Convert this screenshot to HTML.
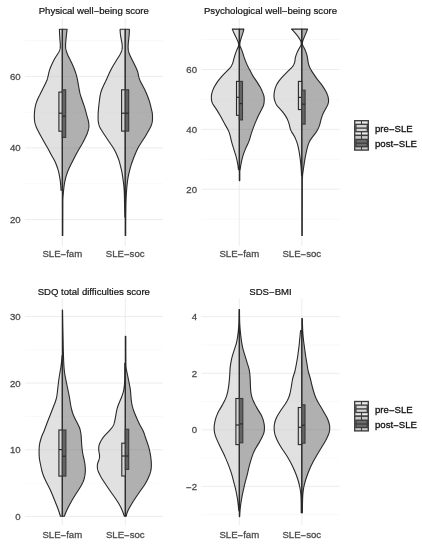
<!DOCTYPE html><html><head><meta charset="utf-8"><title>Violin plots</title><style>html,body{margin:0;padding:0;background:#fff}svg{display:block}svg text{font-family:"Liberation Sans",Arial,Helvetica,sans-serif}</style></head><body><svg width="422" height="550" viewBox="0 0 422 550" font-size="9.6">
<rect width="422" height="550" fill="#fff"/>
<line x1="25.1" x2="162.6" y1="40.6" y2="40.6" stroke="#f2f2f2" stroke-width="0.5"/>
<line x1="25.1" x2="162.6" y1="112.2" y2="112.2" stroke="#f2f2f2" stroke-width="0.5"/>
<line x1="25.1" x2="162.6" y1="183.7" y2="183.7" stroke="#f2f2f2" stroke-width="0.5"/>
<line x1="25.1" x2="162.6" y1="76.4" y2="76.4" stroke="#ebebeb" stroke-width="0.9"/>
<text x="20.6" y="79.9" text-anchor="end" fill="#4d4d4d" stroke="#4d4d4d" stroke-width="0.3">60</text>
<line x1="25.1" x2="162.6" y1="147.9" y2="147.9" stroke="#ebebeb" stroke-width="0.9"/>
<text x="20.6" y="151.3" text-anchor="end" fill="#4d4d4d" stroke="#4d4d4d" stroke-width="0.3">40</text>
<line x1="25.1" x2="162.6" y1="219.5" y2="219.5" stroke="#ebebeb" stroke-width="0.9"/>
<text x="20.6" y="222.9" text-anchor="end" fill="#4d4d4d" stroke="#4d4d4d" stroke-width="0.3">20</text>
<line x1="62.3" x2="62.3" y1="18.5" y2="246" stroke="#ebebeb" stroke-width="0.9"/>
<text x="62.3" y="257" text-anchor="middle" fill="#4d4d4d" stroke="#4d4d4d" stroke-width="0.3">SLE<tspan dy="1.1">−</tspan><tspan dy="-1.1">fam</tspan></text>
<line x1="125.2" x2="125.2" y1="18.5" y2="246" stroke="#ebebeb" stroke-width="0.9"/>
<text x="125.2" y="257" text-anchor="middle" fill="#4d4d4d" stroke="#4d4d4d" stroke-width="0.3">SLE<tspan dy="1.1">−</tspan><tspan dy="-1.1">soc</tspan></text>
<text x="93.8" y="14.3" text-anchor="middle" fill="#111111" stroke="#111111" stroke-width="0.2">Physical well<tspan dy="1.1">−</tspan><tspan dy="-1.1">being score</tspan></text>
<line x1="201.4" x2="339.8" y1="39.6" y2="39.6" stroke="#f2f2f2" stroke-width="0.5"/>
<line x1="201.4" x2="339.8" y1="99.4" y2="99.4" stroke="#f2f2f2" stroke-width="0.5"/>
<line x1="201.4" x2="339.8" y1="159.3" y2="159.3" stroke="#f2f2f2" stroke-width="0.5"/>
<line x1="201.4" x2="339.8" y1="219.2" y2="219.2" stroke="#f2f2f2" stroke-width="0.5"/>
<line x1="201.4" x2="339.8" y1="69.5" y2="69.5" stroke="#ebebeb" stroke-width="0.9"/>
<text x="197" y="73.0" text-anchor="end" fill="#4d4d4d" stroke="#4d4d4d" stroke-width="0.3">60</text>
<line x1="201.4" x2="339.8" y1="129.4" y2="129.4" stroke="#ebebeb" stroke-width="0.9"/>
<text x="197" y="132.8" text-anchor="end" fill="#4d4d4d" stroke="#4d4d4d" stroke-width="0.3">40</text>
<line x1="201.4" x2="339.8" y1="189.2" y2="189.2" stroke="#ebebeb" stroke-width="0.9"/>
<text x="197" y="192.6" text-anchor="end" fill="#4d4d4d" stroke="#4d4d4d" stroke-width="0.3">20</text>
<line x1="239.3" x2="239.3" y1="18.5" y2="246" stroke="#ebebeb" stroke-width="0.9"/>
<text x="239.3" y="257" text-anchor="middle" fill="#4d4d4d" stroke="#4d4d4d" stroke-width="0.3">SLE<tspan dy="1.1">−</tspan><tspan dy="-1.1">fam</tspan></text>
<line x1="301.8" x2="301.8" y1="18.5" y2="246" stroke="#ebebeb" stroke-width="0.9"/>
<text x="301.8" y="257" text-anchor="middle" fill="#4d4d4d" stroke="#4d4d4d" stroke-width="0.3">SLE<tspan dy="1.1">−</tspan><tspan dy="-1.1">soc</tspan></text>
<text x="270.5" y="14.3" text-anchor="middle" fill="#111111" stroke="#111111" stroke-width="0.2">Psychological well<tspan dy="1.1">−</tspan><tspan dy="-1.1">being score</tspan></text>
<line x1="25.1" x2="162.6" y1="349.8" y2="349.8" stroke="#f2f2f2" stroke-width="0.5"/>
<line x1="25.1" x2="162.6" y1="416.5" y2="416.5" stroke="#f2f2f2" stroke-width="0.5"/>
<line x1="25.1" x2="162.6" y1="483.1" y2="483.1" stroke="#f2f2f2" stroke-width="0.5"/>
<line x1="25.1" x2="162.6" y1="316.5" y2="316.5" stroke="#ebebeb" stroke-width="0.9"/>
<text x="20.6" y="319.9" text-anchor="end" fill="#4d4d4d" stroke="#4d4d4d" stroke-width="0.3">30</text>
<line x1="25.1" x2="162.6" y1="383.1" y2="383.1" stroke="#ebebeb" stroke-width="0.9"/>
<text x="20.6" y="386.6" text-anchor="end" fill="#4d4d4d" stroke="#4d4d4d" stroke-width="0.3">20</text>
<line x1="25.1" x2="162.6" y1="449.8" y2="449.8" stroke="#ebebeb" stroke-width="0.9"/>
<text x="20.6" y="453.2" text-anchor="end" fill="#4d4d4d" stroke="#4d4d4d" stroke-width="0.3">10</text>
<line x1="25.1" x2="162.6" y1="516.4" y2="516.4" stroke="#ebebeb" stroke-width="0.9"/>
<text x="20.6" y="519.9" text-anchor="end" fill="#4d4d4d" stroke="#4d4d4d" stroke-width="0.3">0</text>
<line x1="62.3" x2="62.3" y1="298.5" y2="525" stroke="#ebebeb" stroke-width="0.9"/>
<text x="62.3" y="538" text-anchor="middle" fill="#4d4d4d" stroke="#4d4d4d" stroke-width="0.3">SLE<tspan dy="1.1">−</tspan><tspan dy="-1.1">fam</tspan></text>
<line x1="125.3" x2="125.3" y1="298.5" y2="525" stroke="#ebebeb" stroke-width="0.9"/>
<text x="125.3" y="538" text-anchor="middle" fill="#4d4d4d" stroke="#4d4d4d" stroke-width="0.3">SLE<tspan dy="1.1">−</tspan><tspan dy="-1.1">soc</tspan></text>
<text x="93.8" y="294.9" text-anchor="middle" fill="#111111" stroke="#111111" stroke-width="0.2">SDQ total difficulties score</text>
<line x1="201.4" x2="339.8" y1="345" y2="345" stroke="#f2f2f2" stroke-width="0.5"/>
<line x1="201.4" x2="339.8" y1="401.5" y2="401.5" stroke="#f2f2f2" stroke-width="0.5"/>
<line x1="201.4" x2="339.8" y1="458.1" y2="458.1" stroke="#f2f2f2" stroke-width="0.5"/>
<line x1="201.4" x2="339.8" y1="514.7" y2="514.7" stroke="#f2f2f2" stroke-width="0.5"/>
<line x1="201.4" x2="339.8" y1="316.7" y2="316.7" stroke="#ebebeb" stroke-width="0.9"/>
<text x="197" y="320.1" text-anchor="end" fill="#4d4d4d" stroke="#4d4d4d" stroke-width="0.3">4</text>
<line x1="201.4" x2="339.8" y1="373.3" y2="373.3" stroke="#ebebeb" stroke-width="0.9"/>
<text x="197" y="376.8" text-anchor="end" fill="#4d4d4d" stroke="#4d4d4d" stroke-width="0.3">2</text>
<line x1="201.4" x2="339.8" y1="429.8" y2="429.8" stroke="#ebebeb" stroke-width="0.9"/>
<text x="197" y="433.2" text-anchor="end" fill="#4d4d4d" stroke="#4d4d4d" stroke-width="0.3">0</text>
<line x1="201.4" x2="339.8" y1="486.4" y2="486.4" stroke="#ebebeb" stroke-width="0.9"/>
<text x="197" y="489.8" text-anchor="end" fill="#4d4d4d" stroke="#4d4d4d" stroke-width="0.3"><tspan dy="1.1">−</tspan><tspan dy="-1.1">2</tspan></text>
<line x1="239.3" x2="239.3" y1="298.5" y2="525" stroke="#ebebeb" stroke-width="0.9"/>
<text x="239.3" y="538" text-anchor="middle" fill="#4d4d4d" stroke="#4d4d4d" stroke-width="0.3">SLE<tspan dy="1.1">−</tspan><tspan dy="-1.1">fam</tspan></text>
<line x1="301.8" x2="301.8" y1="298.5" y2="525" stroke="#ebebeb" stroke-width="0.9"/>
<text x="301.8" y="538" text-anchor="middle" fill="#4d4d4d" stroke="#4d4d4d" stroke-width="0.3">SLE<tspan dy="1.1">−</tspan><tspan dy="-1.1">soc</tspan></text>
<text x="270.5" y="294.9" text-anchor="middle" fill="#111111" stroke="#111111" stroke-width="0.2">SDS<tspan dy="1.1">−</tspan><tspan dy="-1.1">BMI</tspan></text>
<path d="M62.30,29.20L59.40,29.20L59.41,29.70L59.43,30.20L59.45,30.70L59.46,31.20L59.48,31.70L59.50,32.20L59.52,32.70L59.54,33.20L59.57,33.70L59.59,34.20L59.62,34.70L59.65,35.20L59.68,35.70L59.71,36.20L59.74,36.70L59.78,37.20L59.81,37.70L59.85,38.20L59.88,38.70L59.92,39.20L59.96,39.70L60.00,40.20L60.04,40.70L60.08,41.20L60.12,41.70L60.16,42.20L60.20,42.70L60.24,43.20L60.27,43.70L60.30,44.20L60.32,44.70L60.34,45.20L60.34,45.70L60.33,46.20L60.32,46.70L60.28,47.20L60.23,47.70L60.16,48.20L60.07,48.70L59.96,49.20L59.82,49.70L59.65,50.20L59.45,50.70L59.23,51.20L58.99,51.70L58.72,52.20L58.43,52.70L58.13,53.20L57.81,53.70L57.49,54.20L57.16,54.70L56.83,55.20L56.51,55.70L56.19,56.20L55.87,56.70L55.56,57.20L55.26,57.70L54.97,58.20L54.68,58.70L54.40,59.20L54.12,59.70L53.85,60.20L53.59,60.70L53.34,61.20L53.09,61.70L52.84,62.20L52.60,62.70L52.36,63.20L52.13,63.70L51.89,64.20L51.66,64.70L51.43,65.20L51.21,65.70L50.99,66.20L50.78,66.70L50.58,67.20L50.38,67.70L50.20,68.20L50.02,68.70L49.85,69.20L49.69,69.70L49.54,70.20L49.39,70.70L49.25,71.20L49.12,71.70L48.99,72.20L48.86,72.70L48.74,73.20L48.62,73.70L48.51,74.20L48.40,74.70L48.29,75.20L48.18,75.70L48.07,76.20L47.96,76.70L47.84,77.20L47.71,77.70L47.58,78.20L47.43,78.70L47.27,79.20L47.10,79.70L46.91,80.20L46.71,80.70L46.51,81.20L46.29,81.70L46.07,82.20L45.84,82.70L45.60,83.20L45.36,83.70L45.11,84.20L44.86,84.70L44.60,85.20L44.34,85.70L44.09,86.20L43.83,86.70L43.57,87.20L43.32,87.70L43.07,88.20L42.82,88.70L42.58,89.20L42.33,89.70L42.09,90.20L41.85,90.70L41.61,91.20L41.36,91.70L41.12,92.20L40.88,92.70L40.63,93.20L40.38,93.70L40.12,94.20L39.86,94.70L39.61,95.20L39.34,95.70L39.08,96.20L38.83,96.70L38.57,97.20L38.33,97.70L38.09,98.20L37.86,98.70L37.64,99.20L37.42,99.70L37.22,100.20L37.02,100.70L36.84,101.20L36.66,101.70L36.48,102.20L36.32,102.70L36.16,103.20L36.01,103.70L35.87,104.20L35.74,104.70L35.61,105.20L35.49,105.70L35.38,106.20L35.27,106.70L35.17,107.20L35.07,107.70L34.98,108.20L34.90,108.70L34.83,109.20L34.76,109.70L34.70,110.20L34.64,110.70L34.59,111.20L34.55,111.70L34.51,112.20L34.47,112.70L34.44,113.20L34.41,113.70L34.39,114.20L34.37,114.70L34.35,115.20L34.34,115.70L34.33,116.20L34.33,116.70L34.34,117.20L34.35,117.70L34.37,118.20L34.40,118.70L34.43,119.20L34.46,119.70L34.51,120.20L34.56,120.70L34.63,121.20L34.70,121.70L34.79,122.20L34.89,122.70L35.01,123.20L35.14,123.70L35.28,124.20L35.44,124.70L35.61,125.20L35.78,125.70L35.97,126.20L36.16,126.70L36.37,127.20L36.58,127.70L36.80,128.20L37.03,128.70L37.27,129.20L37.52,129.70L37.77,130.20L38.02,130.70L38.28,131.20L38.54,131.70L38.80,132.20L39.07,132.70L39.33,133.20L39.60,133.70L39.87,134.20L40.14,134.70L40.41,135.20L40.69,135.70L40.96,136.20L41.24,136.70L41.51,137.20L41.79,137.70L42.07,138.20L42.35,138.70L42.62,139.20L42.90,139.70L43.18,140.20L43.46,140.70L43.74,141.20L44.03,141.70L44.31,142.20L44.59,142.70L44.88,143.20L45.17,143.70L45.45,144.20L45.74,144.70L46.03,145.20L46.33,145.70L46.62,146.20L46.91,146.70L47.19,147.20L47.48,147.70L47.76,148.20L48.04,148.70L48.32,149.20L48.59,149.70L48.86,150.20L49.12,150.70L49.38,151.20L49.64,151.70L49.90,152.20L50.16,152.70L50.42,153.20L50.68,153.70L50.95,154.20L51.22,154.70L51.49,155.20L51.77,155.70L52.06,156.20L52.35,156.70L52.65,157.20L52.94,157.70L53.23,158.20L53.52,158.70L53.80,159.20L54.07,159.70L54.34,160.20L54.59,160.70L54.84,161.20L55.07,161.70L55.30,162.20L55.52,162.70L55.73,163.20L55.93,163.70L56.13,164.20L56.33,164.70L56.51,165.20L56.70,165.70L56.88,166.20L57.05,166.70L57.22,167.20L57.39,167.70L57.55,168.20L57.70,168.70L57.86,169.20L58.01,169.70L58.15,170.20L58.29,170.70L58.42,171.20L58.55,171.70L58.67,172.20L58.79,172.70L58.90,173.20L59.01,173.70L59.12,174.20L59.22,174.70L59.31,175.20L59.41,175.70L59.50,176.20L59.59,176.70L59.68,177.20L59.76,177.70L59.84,178.20L59.92,178.70L60.00,179.20L60.08,179.70L60.15,180.20L60.22,180.70L60.29,181.20L60.36,181.70L60.42,182.20L60.48,182.70L60.53,183.20L60.58,183.70L60.63,184.20L60.67,184.70L60.71,185.20L60.75,185.70L60.79,186.20L60.82,186.70L60.86,187.20L60.89,187.70L60.91,188.20L60.94,188.70L60.96,189.20L60.98,189.70L61.00,190.20L61.00,190.30L62.30,190.30Z" fill="#c4c4c4" fill-opacity="0.5" stroke="#282828" stroke-width="1.1" stroke-linejoin="round"/>
<path d="M62.30,29.20L67.10,29.20L67.04,29.70L66.98,30.20L66.92,30.70L66.86,31.20L66.81,31.70L66.75,32.20L66.70,32.70L66.64,33.20L66.59,33.70L66.53,34.20L66.48,34.70L66.42,35.20L66.37,35.70L66.31,36.20L66.26,36.70L66.21,37.20L66.16,37.70L66.11,38.20L66.06,38.70L66.01,39.20L65.96,39.70L65.91,40.20L65.87,40.70L65.82,41.20L65.78,41.70L65.73,42.20L65.69,42.70L65.66,43.20L65.62,43.70L65.60,44.20L65.57,44.70L65.56,45.20L65.56,45.70L65.56,46.20L65.58,46.70L65.61,47.20L65.65,47.70L65.71,48.20L65.78,48.70L65.87,49.20L65.97,49.70L66.09,50.20L66.23,50.70L66.38,51.20L66.54,51.70L66.71,52.20L66.89,52.70L67.08,53.20L67.27,53.70L67.48,54.20L67.69,54.70L67.90,55.20L68.13,55.70L68.36,56.20L68.60,56.70L68.84,57.20L69.09,57.70L69.34,58.20L69.59,58.70L69.85,59.20L70.10,59.70L70.35,60.20L70.60,60.70L70.85,61.20L71.10,61.70L71.35,62.20L71.59,62.70L71.83,63.20L72.06,63.70L72.29,64.20L72.52,64.70L72.74,65.20L72.96,65.70L73.18,66.20L73.39,66.70L73.60,67.20L73.81,67.70L74.00,68.20L74.20,68.70L74.39,69.20L74.57,69.70L74.76,70.20L74.93,70.70L75.11,71.20L75.27,71.70L75.44,72.20L75.60,72.70L75.76,73.20L75.91,73.70L76.06,74.20L76.21,74.70L76.36,75.20L76.50,75.70L76.63,76.20L76.76,76.70L76.89,77.20L77.01,77.70L77.12,78.20L77.23,78.70L77.34,79.20L77.44,79.70L77.54,80.20L77.63,80.70L77.72,81.20L77.81,81.70L77.90,82.20L77.99,82.70L78.08,83.20L78.16,83.70L78.25,84.20L78.34,84.70L78.43,85.20L78.51,85.70L78.60,86.20L78.69,86.70L78.78,87.20L78.86,87.70L78.95,88.20L79.04,88.70L79.13,89.20L79.22,89.70L79.31,90.20L79.40,90.70L79.50,91.20L79.60,91.70L79.70,92.20L79.81,92.70L79.92,93.20L80.05,93.70L80.18,94.20L80.32,94.70L80.47,95.20L80.62,95.70L80.78,96.20L80.95,96.70L81.12,97.20L81.30,97.70L81.47,98.20L81.65,98.70L81.83,99.20L82.00,99.70L82.18,100.20L82.36,100.70L82.54,101.20L82.71,101.70L82.89,102.20L83.07,102.70L83.24,103.20L83.41,103.70L83.58,104.20L83.75,104.70L83.92,105.20L84.08,105.70L84.24,106.20L84.39,106.70L84.55,107.20L84.70,107.70L84.85,108.20L84.99,108.70L85.14,109.20L85.28,109.70L85.42,110.20L85.56,110.70L85.70,111.20L85.83,111.70L85.96,112.20L86.09,112.70L86.22,113.20L86.35,113.70L86.48,114.20L86.61,114.70L86.74,115.20L86.88,115.70L87.02,116.20L87.16,116.70L87.30,117.20L87.45,117.70L87.60,118.20L87.74,118.70L87.89,119.20L88.02,119.70L88.15,120.20L88.27,120.70L88.38,121.20L88.48,121.70L88.57,122.20L88.64,122.70L88.71,123.20L88.77,123.70L88.82,124.20L88.86,124.70L88.89,125.20L88.91,125.70L88.90,126.20L88.89,126.70L88.85,127.20L88.79,127.70L88.72,128.20L88.63,128.70L88.52,129.20L88.40,129.70L88.27,130.20L88.13,130.70L87.98,131.20L87.82,131.70L87.66,132.20L87.48,132.70L87.30,133.20L87.11,133.70L86.90,134.20L86.69,134.70L86.47,135.20L86.24,135.70L86.01,136.20L85.77,136.70L85.54,137.20L85.29,137.70L85.05,138.20L84.81,138.70L84.56,139.20L84.32,139.70L84.07,140.20L83.81,140.70L83.56,141.20L83.30,141.70L83.03,142.20L82.77,142.70L82.49,143.20L82.22,143.70L81.93,144.20L81.65,144.70L81.35,145.20L81.06,145.70L80.76,146.20L80.46,146.70L80.16,147.20L79.86,147.70L79.56,148.20L79.27,148.70L78.98,149.20L78.69,149.70L78.40,150.20L78.12,150.70L77.83,151.20L77.56,151.70L77.28,152.20L77.00,152.70L76.73,153.20L76.46,153.70L76.19,154.20L75.92,154.70L75.66,155.20L75.40,155.70L75.14,156.20L74.88,156.70L74.62,157.20L74.37,157.70L74.11,158.20L73.86,158.70L73.61,159.20L73.35,159.70L73.10,160.20L72.84,160.70L72.59,161.20L72.33,161.70L72.08,162.20L71.82,162.70L71.56,163.20L71.31,163.70L71.05,164.20L70.80,164.70L70.55,165.20L70.30,165.70L70.06,166.20L69.82,166.70L69.58,167.20L69.34,167.70L69.11,168.20L68.88,168.70L68.66,169.20L68.44,169.70L68.23,170.20L68.02,170.70L67.82,171.20L67.63,171.70L67.44,172.20L67.26,172.70L67.09,173.20L66.92,173.70L66.76,174.20L66.61,174.70L66.46,175.20L66.31,175.70L66.17,176.20L66.03,176.70L65.90,177.20L65.76,177.70L65.63,178.20L65.51,178.70L65.38,179.20L65.26,179.70L65.14,180.20L65.02,180.70L64.91,181.20L64.80,181.70L64.70,182.20L64.61,182.70L64.51,183.20L64.43,183.70L64.35,184.20L64.27,184.70L64.20,185.20L64.13,185.70L64.06,186.20L64.00,186.70L63.94,187.20L63.88,187.70L63.83,188.20L63.77,188.70L63.72,189.20L63.67,189.70L63.61,190.20L63.56,190.70L63.51,191.20L63.46,191.70L63.42,192.20L63.37,192.70L63.32,193.20L63.28,193.70L63.23,194.20L63.19,194.70L63.15,195.20L63.11,195.70L63.07,196.20L63.03,196.70L63.00,197.00L62.85,200.00L62.80,235.50L62.30,235.50Z" fill="#616161" fill-opacity="0.5" stroke="#282828" stroke-width="1.1" stroke-linejoin="round"/>
<rect x="58.90" y="92.1" width="3.40" height="39.10" fill="#d6d6d6" stroke="#282828" stroke-width="1.1"/>
<line x1="58.90" x2="62.30" y1="113.2" y2="113.2" stroke="#282828" stroke-width="1.2"/>
<rect x="62.30" y="89.8" width="3.40" height="47.60" fill="#646464" stroke="#3a3a3a" stroke-width="1.1"/>
<line x1="62.30" x2="65.70" y1="116.2" y2="116.2" stroke="#2a2a2a" stroke-width="1.2"/>
<path d="M125.20,29.20L120.10,29.20L120.11,29.70L120.12,30.20L120.14,30.70L120.17,31.20L120.20,31.70L120.23,32.20L120.27,32.70L120.31,33.20L120.35,33.70L120.40,34.20L120.46,34.70L120.52,35.20L120.59,35.70L120.66,36.20L120.74,36.70L120.82,37.20L120.91,37.70L121.01,38.20L121.10,38.70L121.19,39.20L121.29,39.70L121.38,40.20L121.48,40.70L121.58,41.20L121.67,41.70L121.76,42.20L121.85,42.70L121.94,43.20L122.02,43.70L122.09,44.20L122.14,44.70L122.19,45.20L122.23,45.70L122.25,46.20L122.26,46.70L122.26,47.20L122.24,47.70L122.21,48.20L122.16,48.70L122.08,49.20L121.98,49.70L121.86,50.20L121.71,50.70L121.53,51.20L121.34,51.70L121.13,52.20L120.91,52.70L120.68,53.20L120.43,53.70L120.17,54.20L119.90,54.70L119.61,55.20L119.32,55.70L119.02,56.20L118.71,56.70L118.39,57.20L118.07,57.70L117.74,58.20L117.42,58.70L117.10,59.20L116.78,59.70L116.46,60.20L116.15,60.70L115.85,61.20L115.54,61.70L115.24,62.20L114.94,62.70L114.64,63.20L114.34,63.70L114.04,64.20L113.74,64.70L113.44,65.20L113.14,65.70L112.85,66.20L112.56,66.70L112.27,67.20L111.99,67.70L111.71,68.20L111.44,68.70L111.18,69.20L110.92,69.70L110.67,70.20L110.42,70.70L110.18,71.20L109.94,71.70L109.71,72.20L109.47,72.70L109.24,73.20L109.02,73.70L108.79,74.20L108.56,74.70L108.34,75.20L108.12,75.70L107.90,76.20L107.68,76.70L107.46,77.20L107.24,77.70L107.02,78.20L106.80,78.70L106.58,79.20L106.35,79.70L106.12,80.20L105.88,80.70L105.65,81.20L105.40,81.70L105.16,82.20L104.91,82.70L104.66,83.20L104.42,83.70L104.17,84.20L103.93,84.70L103.69,85.20L103.46,85.70L103.23,86.20L103.00,86.70L102.78,87.20L102.57,87.70L102.35,88.20L102.15,88.70L101.95,89.20L101.76,89.70L101.57,90.20L101.40,90.70L101.24,91.20L101.08,91.70L100.94,92.20L100.80,92.70L100.67,93.20L100.55,93.70L100.44,94.20L100.33,94.70L100.23,95.20L100.13,95.70L100.04,96.20L99.95,96.70L99.87,97.20L99.79,97.70L99.72,98.20L99.64,98.70L99.58,99.20L99.51,99.70L99.45,100.20L99.39,100.70L99.33,101.20L99.27,101.70L99.21,102.20L99.16,102.70L99.10,103.20L99.04,103.70L98.99,104.20L98.93,104.70L98.88,105.20L98.82,105.70L98.77,106.20L98.72,106.70L98.67,107.20L98.62,107.70L98.57,108.20L98.52,108.70L98.47,109.20L98.43,109.70L98.38,110.20L98.34,110.70L98.30,111.20L98.26,111.70L98.23,112.20L98.20,112.70L98.17,113.20L98.15,113.70L98.13,114.20L98.12,114.70L98.11,115.20L98.11,115.70L98.10,116.20L98.10,116.70L98.10,117.20L98.10,117.70L98.10,118.20L98.11,118.70L98.12,119.20L98.13,119.70L98.15,120.20L98.18,120.70L98.22,121.20L98.28,121.70L98.34,122.20L98.43,122.70L98.53,123.20L98.64,123.70L98.76,124.20L98.90,124.70L99.06,125.20L99.23,125.70L99.41,126.20L99.62,126.70L99.85,127.20L100.09,127.70L100.36,128.20L100.64,128.70L100.93,129.20L101.23,129.70L101.54,130.20L101.85,130.70L102.17,131.20L102.49,131.70L102.81,132.20L103.13,132.70L103.45,133.20L103.78,133.70L104.11,134.20L104.44,134.70L104.77,135.20L105.10,135.70L105.43,136.20L105.76,136.70L106.10,137.20L106.43,137.70L106.76,138.20L107.09,138.70L107.43,139.20L107.76,139.70L108.09,140.20L108.43,140.70L108.76,141.20L109.10,141.70L109.44,142.20L109.78,142.70L110.13,143.20L110.47,143.70L110.82,144.20L111.17,144.70L111.52,145.20L111.87,145.70L112.21,146.20L112.54,146.70L112.87,147.20L113.19,147.70L113.50,148.20L113.80,148.70L114.08,149.20L114.36,149.70L114.63,150.20L114.89,150.70L115.14,151.20L115.39,151.70L115.63,152.20L115.86,152.70L116.09,153.20L116.32,153.70L116.54,154.20L116.76,154.70L116.98,155.20L117.19,155.70L117.40,156.20L117.61,156.70L117.81,157.20L118.01,157.70L118.20,158.20L118.38,158.70L118.56,159.20L118.73,159.70L118.89,160.20L119.05,160.70L119.20,161.20L119.34,161.70L119.48,162.20L119.61,162.70L119.75,163.20L119.87,163.70L120.00,164.20L120.13,164.70L120.25,165.20L120.38,165.70L120.51,166.20L120.64,166.70L120.76,167.20L120.89,167.70L121.02,168.20L121.14,168.70L121.26,169.20L121.38,169.70L121.50,170.20L121.61,170.70L121.71,171.20L121.81,171.70L121.91,172.20L122.00,172.70L122.08,173.20L122.17,173.70L122.25,174.20L122.33,174.70L122.40,175.20L122.48,175.70L122.55,176.20L122.63,176.70L122.70,177.20L122.77,177.70L122.85,178.20L122.92,178.70L122.99,179.20L123.06,179.70L123.14,180.20L123.21,180.70L123.27,181.20L123.34,181.70L123.40,182.20L123.47,182.70L123.53,183.20L123.59,183.70L123.65,184.20L123.71,184.70L123.77,185.20L123.82,185.70L123.87,186.20L123.92,186.70L123.97,187.20L124.01,187.70L124.05,188.20L124.08,188.70L124.11,189.20L124.14,189.70L124.17,190.20L124.20,190.70L124.22,191.20L124.24,191.70L124.26,192.20L124.28,192.70L124.30,193.20L124.32,193.70L124.33,194.20L124.35,194.70L124.37,195.20L124.38,195.70L124.39,196.20L124.41,196.70L124.42,197.20L124.43,197.70L124.44,198.20L124.46,198.70L124.47,199.20L124.48,199.70L124.49,200.20L124.50,200.70L124.51,201.20L124.52,201.70L124.53,202.20L124.54,202.70L124.55,203.20L124.56,203.70L124.57,204.20L124.58,204.70L124.59,205.20L124.60,205.70L124.61,206.20L124.62,206.70L124.63,207.20L124.65,207.70L124.66,208.20L124.67,208.70L124.68,209.20L124.70,209.70L124.71,210.20L124.72,210.70L124.73,211.20L124.75,211.70L124.76,212.20L124.77,212.70L124.79,213.20L124.80,213.70L124.81,214.20L124.83,214.70L124.84,215.20L124.85,215.70L124.87,216.20L124.88,216.70L124.90,217.20L124.90,217.30L125.20,217.30Z" fill="#c4c4c4" fill-opacity="0.5" stroke="#282828" stroke-width="1.1" stroke-linejoin="round"/>
<path d="M125.20,29.20L129.40,29.20L129.39,29.70L129.38,30.20L129.37,30.70L129.35,31.20L129.33,31.70L129.31,32.20L129.29,32.70L129.26,33.20L129.23,33.70L129.20,34.20L129.17,34.70L129.13,35.20L129.09,35.70L129.04,36.20L128.99,36.70L128.94,37.20L128.89,37.70L128.83,38.20L128.78,38.70L128.72,39.20L128.67,39.70L128.61,40.20L128.56,40.70L128.50,41.20L128.45,41.70L128.40,42.20L128.35,42.70L128.30,43.20L128.26,43.70L128.22,44.20L128.19,44.70L128.16,45.20L128.14,45.70L128.13,46.20L128.12,46.70L128.12,47.20L128.13,47.70L128.15,48.20L128.18,48.70L128.22,49.20L128.28,49.70L128.35,50.20L128.44,50.70L128.55,51.20L128.67,51.70L128.81,52.20L128.96,52.70L129.13,53.20L129.31,53.70L129.50,54.20L129.70,54.70L129.91,55.20L130.13,55.70L130.36,56.20L130.60,56.70L130.84,57.20L131.09,57.70L131.34,58.20L131.59,58.70L131.84,59.20L132.09,59.70L132.35,60.20L132.60,60.70L132.85,61.20L133.10,61.70L133.35,62.20L133.60,62.70L133.85,63.20L134.10,63.70L134.35,64.20L134.60,64.70L134.85,65.20L135.09,65.70L135.34,66.20L135.58,66.70L135.81,67.20L136.04,67.70L136.27,68.20L136.49,68.70L136.70,69.20L136.91,69.70L137.10,70.20L137.29,70.70L137.47,71.20L137.63,71.70L137.77,72.20L137.90,72.70L138.02,73.20L138.13,73.70L138.22,74.20L138.32,74.70L138.41,75.20L138.51,75.70L138.61,76.20L138.73,76.70L138.86,77.20L139.00,77.70L139.16,78.20L139.33,78.70L139.51,79.20L139.71,79.70L139.92,80.20L140.13,80.70L140.36,81.20L140.60,81.70L140.85,82.20L141.11,82.70L141.38,83.20L141.64,83.70L141.91,84.20L142.19,84.70L142.45,85.20L142.72,85.70L142.99,86.20L143.25,86.70L143.51,87.20L143.77,87.70L144.03,88.20L144.28,88.70L144.53,89.20L144.78,89.70L145.02,90.20L145.26,90.70L145.50,91.20L145.73,91.70L145.95,92.20L146.17,92.70L146.39,93.20L146.60,93.70L146.81,94.20L147.01,94.70L147.21,95.20L147.41,95.70L147.60,96.20L147.79,96.70L147.98,97.20L148.16,97.70L148.34,98.20L148.52,98.70L148.70,99.20L148.88,99.70L149.05,100.20L149.21,100.70L149.37,101.20L149.53,101.70L149.68,102.20L149.83,102.70L149.97,103.20L150.10,103.70L150.23,104.20L150.36,104.70L150.48,105.20L150.60,105.70L150.71,106.20L150.82,106.70L150.94,107.20L151.05,107.70L151.16,108.20L151.28,108.70L151.40,109.20L151.52,109.70L151.64,110.20L151.76,110.70L151.88,111.20L152.00,111.70L152.10,112.20L152.20,112.70L152.28,113.20L152.34,113.70L152.40,114.20L152.43,114.70L152.46,115.20L152.48,115.70L152.49,116.20L152.49,116.70L152.50,117.20L152.50,117.70L152.49,118.20L152.49,118.70L152.48,119.20L152.46,119.70L152.43,120.20L152.40,120.70L152.34,121.20L152.27,121.70L152.18,122.20L152.07,122.70L151.94,123.20L151.80,123.70L151.65,124.20L151.48,124.70L151.30,125.20L151.11,125.70L150.90,126.20L150.68,126.70L150.45,127.20L150.20,127.70L149.94,128.20L149.67,128.70L149.39,129.20L149.10,129.70L148.81,130.20L148.53,130.70L148.24,131.20L147.95,131.70L147.67,132.20L147.38,132.70L147.10,133.20L146.82,133.70L146.54,134.20L146.25,134.70L145.96,135.20L145.67,135.70L145.37,136.20L145.07,136.70L144.76,137.20L144.45,137.70L144.13,138.20L143.80,138.70L143.47,139.20L143.14,139.70L142.81,140.20L142.47,140.70L142.14,141.20L141.80,141.70L141.48,142.20L141.15,142.70L140.83,143.20L140.51,143.70L140.19,144.20L139.88,144.70L139.57,145.20L139.27,145.70L138.97,146.20L138.68,146.70L138.40,147.20L138.12,147.70L137.86,148.20L137.60,148.70L137.35,149.20L137.10,149.70L136.87,150.20L136.64,150.70L136.42,151.20L136.20,151.70L135.98,152.20L135.77,152.70L135.56,153.20L135.35,153.70L135.14,154.20L134.94,154.70L134.73,155.20L134.53,155.70L134.32,156.20L134.12,156.70L133.92,157.20L133.72,157.70L133.53,158.20L133.34,158.70L133.15,159.20L132.96,159.70L132.78,160.20L132.60,160.70L132.42,161.20L132.24,161.70L132.07,162.20L131.90,162.70L131.73,163.20L131.57,163.70L131.41,164.20L131.25,164.70L131.10,165.20L130.95,165.70L130.80,166.20L130.66,166.70L130.52,167.20L130.38,167.70L130.24,168.20L130.11,168.70L129.98,169.20L129.85,169.70L129.73,170.20L129.60,170.70L129.48,171.20L129.35,171.70L129.23,172.20L129.11,172.70L128.99,173.20L128.87,173.70L128.75,174.20L128.64,174.70L128.53,175.20L128.42,175.70L128.32,176.20L128.22,176.70L128.13,177.20L128.04,177.70L127.95,178.20L127.87,178.70L127.80,179.20L127.72,179.70L127.65,180.20L127.58,180.70L127.52,181.20L127.45,181.70L127.39,182.20L127.33,182.70L127.27,183.20L127.21,183.70L127.15,184.20L127.10,184.70L127.04,185.20L126.99,185.70L126.94,186.20L126.89,186.70L126.84,187.20L126.80,187.70L126.75,188.20L126.71,188.70L126.67,189.20L126.63,189.70L126.59,190.20L126.55,190.70L126.51,191.20L126.48,191.70L126.44,192.20L126.41,192.70L126.37,193.20L126.34,193.70L126.31,194.20L126.29,194.70L126.26,195.20L126.23,195.70L126.21,196.20L126.19,196.70L126.16,197.20L126.14,197.70L126.12,198.20L126.10,198.70L126.08,199.20L126.06,199.70L126.05,200.20L126.03,200.70L126.01,201.20L126.00,201.70L125.98,202.20L125.97,202.70L125.95,203.20L125.94,203.70L125.93,204.20L125.92,204.70L125.91,205.20L125.90,205.70L125.90,205.80L125.75,217.30L125.70,235.50L125.20,235.50Z" fill="#616161" fill-opacity="0.5" stroke="#282828" stroke-width="1.1" stroke-linejoin="round"/>
<rect x="121.60" y="89.8" width="3.60" height="41.30" fill="#d6d6d6" stroke="#282828" stroke-width="1.1"/>
<line x1="121.60" x2="125.20" y1="113.2" y2="113.2" stroke="#282828" stroke-width="1.2"/>
<rect x="125.20" y="89.8" width="3.50" height="41.30" fill="#646464" stroke="#3a3a3a" stroke-width="1.1"/>
<line x1="125.20" x2="128.70" y1="113.2" y2="113.2" stroke="#2a2a2a" stroke-width="1.2"/>
<path d="M239.30,29.10L232.30,29.10L232.50,29.60L232.70,30.10L232.89,30.60L233.09,31.10L233.29,31.60L233.50,32.10L233.72,32.60L233.94,33.10L234.18,33.60L234.41,34.10L234.65,34.60L234.90,35.10L235.15,35.60L235.40,36.10L235.65,36.60L235.89,37.10L236.14,37.60L236.39,38.10L236.63,38.60L236.86,39.10L237.10,39.60L237.32,40.10L237.55,40.60L237.76,41.10L237.96,41.60L238.14,42.10L238.31,42.60L238.45,43.10L238.57,43.60L238.64,44.10L238.68,44.60L238.67,45.10L238.61,45.60L238.50,46.10L238.35,46.60L238.16,47.10L237.95,47.60L237.72,48.10L237.49,48.60L237.25,49.10L237.02,49.60L236.79,50.10L236.58,50.60L236.38,51.10L236.18,51.60L236.00,52.10L235.81,52.60L235.63,53.10L235.46,53.60L235.29,54.10L235.12,54.60L234.96,55.10L234.80,55.60L234.64,56.10L234.49,56.60L234.34,57.10L234.20,57.60L234.06,58.10L233.93,58.60L233.80,59.10L233.67,59.60L233.55,60.10L233.43,60.60L233.30,61.10L233.17,61.60L233.03,62.10L232.88,62.60L232.71,63.10L232.53,63.60L232.32,64.10L232.10,64.60L231.85,65.10L231.58,65.60L231.28,66.10L230.95,66.60L230.58,67.10L230.19,67.60L229.77,68.10L229.32,68.60L228.86,69.10L228.38,69.60L227.89,70.10L227.39,70.60L226.89,71.10L226.39,71.60L225.89,72.10L225.39,72.60L224.89,73.10L224.40,73.60L223.92,74.10L223.44,74.60L222.97,75.10L222.51,75.60L222.06,76.10L221.62,76.60L221.18,77.10L220.74,77.60L220.32,78.10L219.90,78.60L219.49,79.10L219.09,79.60L218.70,80.10L218.32,80.60L217.95,81.10L217.59,81.60L217.25,82.10L216.91,82.60L216.58,83.10L216.26,83.60L215.95,84.10L215.65,84.60L215.35,85.10L215.06,85.60L214.78,86.10L214.50,86.60L214.24,87.10L213.98,87.60L213.74,88.10L213.50,88.60L213.28,89.10L213.07,89.60L212.87,90.10L212.69,90.60L212.51,91.10L212.35,91.60L212.19,92.10L212.04,92.60L211.91,93.10L211.79,93.60L211.68,94.10L211.58,94.60L211.50,95.10L211.45,95.60L211.40,96.10L211.38,96.60L211.37,97.10L211.37,97.60L211.38,98.10L211.41,98.60L211.44,99.10L211.49,99.60L211.54,100.10L211.62,100.60L211.72,101.10L211.85,101.60L212.00,102.10L212.18,102.60L212.40,103.10L212.64,103.60L212.91,104.10L213.21,104.60L213.52,105.10L213.85,105.60L214.19,106.10L214.54,106.60L214.89,107.10L215.25,107.60L215.60,108.10L215.94,108.60L216.27,109.10L216.60,109.60L216.92,110.10L217.23,110.60L217.54,111.10L217.84,111.60L218.13,112.10L218.43,112.60L218.71,113.10L219.00,113.60L219.29,114.10L219.57,114.60L219.85,115.10L220.13,115.60L220.41,116.10L220.69,116.60L220.97,117.10L221.25,117.60L221.52,118.10L221.79,118.60L222.06,119.10L222.33,119.60L222.60,120.10L222.87,120.60L223.14,121.10L223.41,121.60L223.67,122.10L223.95,122.60L224.22,123.10L224.49,123.60L224.77,124.10L225.06,124.60L225.34,125.10L225.63,125.60L225.93,126.10L226.22,126.60L226.51,127.10L226.80,127.60L227.09,128.10L227.37,128.60L227.64,129.10L227.90,129.60L228.14,130.10L228.38,130.60L228.61,131.10L228.83,131.60L229.03,132.10L229.22,132.60L229.40,133.10L229.56,133.60L229.72,134.10L229.87,134.60L230.00,135.10L230.13,135.60L230.26,136.10L230.37,136.60L230.49,137.10L230.60,137.60L230.72,138.10L230.83,138.60L230.94,139.10L231.06,139.60L231.17,140.10L231.30,140.60L231.42,141.10L231.55,141.60L231.68,142.10L231.82,142.60L231.96,143.10L232.11,143.60L232.25,144.10L232.40,144.60L232.55,145.10L232.70,145.60L232.86,146.10L233.01,146.60L233.17,147.10L233.32,147.60L233.48,148.10L233.63,148.60L233.79,149.10L233.94,149.60L234.10,150.10L234.26,150.60L234.41,151.10L234.57,151.60L234.73,152.10L234.89,152.60L235.05,153.10L235.21,153.60L235.37,154.10L235.53,154.60L235.68,155.10L235.83,155.60L235.97,156.10L236.11,156.60L236.25,157.10L236.38,157.60L236.50,158.10L236.62,158.60L236.74,159.10L236.85,159.60L236.96,160.10L237.07,160.60L237.17,161.10L237.28,161.60L237.37,162.10L237.47,162.60L237.56,163.10L237.65,163.60L237.74,164.10L237.82,164.60L237.90,165.10L237.98,165.60L238.06,166.10L238.13,166.60L238.19,167.10L238.26,167.60L238.32,168.10L238.38,168.60L238.43,169.10L238.48,169.60L238.50,169.70L239.30,169.70Z" fill="#c4c4c4" fill-opacity="0.5" stroke="#282828" stroke-width="1.1" stroke-linejoin="round"/>
<path d="M239.30,29.10L243.90,29.10L243.77,29.60L243.65,30.10L243.52,30.60L243.39,31.10L243.26,31.60L243.12,32.10L242.98,32.60L242.83,33.10L242.67,33.60L242.52,34.10L242.35,34.60L242.19,35.10L242.02,35.60L241.85,36.10L241.68,36.60L241.51,37.10L241.35,37.60L241.18,38.10L241.03,38.60L240.87,39.10L240.72,39.60L240.58,40.10L240.44,40.60L240.31,41.10L240.19,41.60L240.08,42.10L239.98,42.60L239.91,43.10L239.85,43.60L239.83,44.10L239.83,44.60L239.88,45.10L239.96,45.60L240.08,46.10L240.24,46.60L240.44,47.10L240.65,47.60L240.88,48.10L241.11,48.60L241.35,49.10L241.57,49.60L241.78,50.10L241.98,50.60L242.17,51.10L242.34,51.60L242.51,52.10L242.67,52.60L242.82,53.10L242.98,53.60L243.13,54.10L243.28,54.60L243.43,55.10L243.58,55.60L243.73,56.10L243.89,56.60L244.06,57.10L244.23,57.60L244.40,58.10L244.58,58.60L244.77,59.10L244.96,59.60L245.16,60.10L245.36,60.60L245.57,61.10L245.77,61.60L245.98,62.10L246.18,62.60L246.39,63.10L246.60,63.60L246.80,64.10L247.01,64.60L247.23,65.10L247.45,65.60L247.68,66.10L247.92,66.60L248.17,67.10L248.43,67.60L248.69,68.10L248.97,68.60L249.24,69.10L249.51,69.60L249.79,70.10L250.06,70.60L250.32,71.10L250.58,71.60L250.84,72.10L251.09,72.60L251.35,73.10L251.61,73.60L251.88,74.10L252.15,74.60L252.44,75.10L252.74,75.60L253.04,76.10L253.36,76.60L253.69,77.10L254.02,77.60L254.37,78.10L254.71,78.60L255.06,79.10L255.41,79.60L255.75,80.10L256.10,80.60L256.43,81.10L256.77,81.60L257.10,82.10L257.42,82.60L257.73,83.10L258.04,83.60L258.35,84.10L258.65,84.60L258.95,85.10L259.25,85.60L259.54,86.10L259.82,86.60L260.10,87.10L260.38,87.60L260.65,88.10L260.91,88.60L261.16,89.10L261.40,89.60L261.64,90.10L261.87,90.60L262.09,91.10L262.31,91.60L262.52,92.10L262.73,92.60L262.93,93.10L263.13,93.60L263.31,94.10L263.49,94.60L263.65,95.10L263.79,95.60L263.92,96.10L264.02,96.60L264.10,97.10L264.16,97.60L264.20,98.10L264.23,98.60L264.24,99.10L264.23,99.60L264.22,100.10L264.19,100.60L264.17,101.10L264.13,101.60L264.09,102.10L264.04,102.60L263.98,103.10L263.90,103.60L263.82,104.10L263.71,104.60L263.58,105.10L263.42,105.60L263.24,106.10L263.03,106.60L262.81,107.10L262.57,107.60L262.32,108.10L262.06,108.60L261.81,109.10L261.55,109.60L261.29,110.10L261.04,110.60L260.78,111.10L260.52,111.60L260.26,112.10L260.01,112.60L259.75,113.10L259.50,113.60L259.24,114.10L258.99,114.60L258.74,115.10L258.50,115.60L258.26,116.10L258.02,116.60L257.78,117.10L257.55,117.60L257.32,118.10L257.09,118.60L256.86,119.10L256.64,119.60L256.42,120.10L256.20,120.60L255.98,121.10L255.77,121.60L255.56,122.10L255.35,122.60L255.14,123.10L254.93,123.60L254.73,124.10L254.53,124.60L254.33,125.10L254.14,125.60L253.94,126.10L253.75,126.60L253.56,127.10L253.37,127.60L253.19,128.10L253.01,128.60L252.82,129.10L252.64,129.60L252.47,130.10L252.29,130.60L252.12,131.10L251.95,131.60L251.78,132.10L251.61,132.60L251.45,133.10L251.29,133.60L251.14,134.10L250.98,134.60L250.83,135.10L250.69,135.60L250.54,136.10L250.40,136.60L250.25,137.10L250.11,137.60L249.96,138.10L249.81,138.60L249.66,139.10L249.50,139.60L249.34,140.10L249.17,140.60L249.00,141.10L248.81,141.60L248.62,142.10L248.41,142.60L248.20,143.10L247.98,143.60L247.76,144.10L247.52,144.60L247.29,145.10L247.05,145.60L246.81,146.10L246.57,146.60L246.33,147.10L246.10,147.60L245.87,148.10L245.64,148.60L245.43,149.10L245.21,149.60L245.01,150.10L244.81,150.60L244.61,151.10L244.42,151.60L244.23,152.10L244.05,152.60L243.87,153.10L243.69,153.60L243.51,154.10L243.34,154.60L243.18,155.10L243.02,155.60L242.87,156.10L242.72,156.60L242.57,157.10L242.43,157.60L242.30,158.10L242.17,158.60L242.05,159.10L241.93,159.60L241.81,160.10L241.70,160.60L241.59,161.10L241.48,161.60L241.38,162.10L241.28,162.60L241.18,163.10L241.09,163.60L241.00,164.10L240.90,164.60L240.82,165.10L240.73,165.60L240.64,166.10L240.56,166.60L240.48,167.10L240.41,167.60L240.33,168.10L240.26,168.60L240.19,169.10L240.12,169.60L240.10,169.70L239.80,171.00L239.80,180.60L239.30,180.60Z" fill="#616161" fill-opacity="0.5" stroke="#282828" stroke-width="1.1" stroke-linejoin="round"/>
<rect x="236.50" y="81.4" width="2.80" height="33.90" fill="#d6d6d6" stroke="#282828" stroke-width="1.1"/>
<line x1="236.50" x2="239.30" y1="97.3" y2="97.3" stroke="#282828" stroke-width="1.2"/>
<rect x="239.30" y="81.4" width="3.20" height="38.50" fill="#646464" stroke="#3a3a3a" stroke-width="1.1"/>
<line x1="239.30" x2="242.50" y1="103.6" y2="103.6" stroke="#2a2a2a" stroke-width="1.2"/>
<path d="M301.80,29.10L291.50,29.10L292.06,29.60L292.57,30.10L293.05,30.60L293.52,31.10L293.97,31.60L294.42,32.10L294.86,32.60L295.29,33.10L295.71,33.60L296.14,34.10L296.55,34.60L296.95,35.10L297.34,35.60L297.72,36.10L298.09,36.60L298.45,37.10L298.79,37.60L299.11,38.10L299.43,38.60L299.72,39.10L300.00,39.60L300.26,40.10L300.50,40.60L300.71,41.10L300.89,41.60L301.03,42.10L301.14,42.60L301.20,43.10L301.21,43.60L301.18,44.10L301.09,44.60L300.95,45.10L300.76,45.60L300.53,46.10L300.28,46.60L300.00,47.10L299.71,47.60L299.42,48.10L299.14,48.60L298.86,49.10L298.58,49.60L298.32,50.10L298.06,50.60L297.81,51.10L297.56,51.60L297.33,52.10L297.10,52.60L296.89,53.10L296.68,53.60L296.48,54.10L296.29,54.60L296.11,55.10L295.94,55.60L295.79,56.10L295.64,56.60L295.52,57.10L295.40,57.60L295.30,58.10L295.22,58.60L295.15,59.10L295.08,59.60L295.02,60.10L294.95,60.60L294.88,61.10L294.80,61.60L294.69,62.10L294.56,62.60L294.41,63.10L294.22,63.60L294.00,64.10L293.75,64.60L293.47,65.10L293.16,65.60L292.81,66.10L292.43,66.60L292.02,67.10L291.58,67.60L291.11,68.10L290.62,68.60L290.11,69.10L289.60,69.60L289.08,70.10L288.56,70.60L288.05,71.10L287.54,71.60L287.04,72.10L286.54,72.60L286.05,73.10L285.56,73.60L285.08,74.10L284.59,74.60L284.11,75.10L283.64,75.60L283.16,76.10L282.69,76.60L282.22,77.10L281.77,77.60L281.32,78.10L280.88,78.60L280.46,79.10L280.05,79.60L279.65,80.10L279.27,80.60L278.90,81.10L278.54,81.60L278.20,82.10L277.87,82.60L277.56,83.10L277.27,83.60L276.99,84.10L276.73,84.60L276.49,85.10L276.26,85.60L276.04,86.10L275.83,86.60L275.64,87.10L275.45,87.60L275.28,88.10L275.12,88.60L274.97,89.10L274.83,89.60L274.70,90.10L274.59,90.60L274.49,91.10L274.40,91.60L274.31,92.10L274.24,92.60L274.18,93.10L274.12,93.60L274.07,94.10L274.03,94.60L274.00,95.10L273.99,95.60L273.99,96.10L274.01,96.60L274.05,97.10L274.10,97.60L274.17,98.10L274.26,98.60L274.36,99.10L274.48,99.60L274.60,100.10L274.74,100.60L274.90,101.10L275.06,101.60L275.24,102.10L275.43,102.60L275.65,103.10L275.88,103.60L276.15,104.10L276.44,104.60L276.76,105.10L277.11,105.60L277.49,106.10L277.90,106.60L278.34,107.10L278.79,107.60L279.26,108.10L279.73,108.60L280.20,109.10L280.66,109.60L281.11,110.10L281.54,110.60L281.97,111.10L282.39,111.60L282.79,112.10L283.18,112.60L283.56,113.10L283.93,113.60L284.29,114.10L284.64,114.60L284.98,115.10L285.30,115.60L285.62,116.10L285.92,116.60L286.21,117.10L286.50,117.60L286.77,118.10L287.02,118.60L287.27,119.10L287.50,119.60L287.72,120.10L287.93,120.60L288.13,121.10L288.32,121.60L288.50,122.10L288.67,122.60L288.84,123.10L288.99,123.60L289.14,124.10L289.27,124.60L289.40,125.10L289.52,125.60L289.64,126.10L289.75,126.60L289.87,127.10L289.98,127.60L290.10,128.10L290.23,128.60L290.38,129.10L290.55,129.60L290.75,130.10L290.97,130.60L291.21,131.10L291.48,131.60L291.77,132.10L292.07,132.60L292.38,133.10L292.70,133.60L293.01,134.10L293.31,134.60L293.61,135.10L293.90,135.60L294.17,136.10L294.44,136.60L294.70,137.10L294.95,137.60L295.19,138.10L295.43,138.60L295.65,139.10L295.87,139.60L296.08,140.10L296.28,140.60L296.47,141.10L296.65,141.60L296.83,142.10L297.00,142.60L297.16,143.10L297.32,143.60L297.47,144.10L297.61,144.60L297.75,145.10L297.88,145.60L298.00,146.10L298.12,146.60L298.24,147.10L298.35,147.60L298.45,148.10L298.55,148.60L298.65,149.10L298.75,149.60L298.85,150.10L298.94,150.60L299.03,151.10L299.12,151.60L299.20,152.10L299.29,152.60L299.37,153.10L299.45,153.60L299.53,154.10L299.61,154.60L299.69,155.10L299.76,155.60L299.83,156.10L299.90,156.60L299.97,157.10L300.04,157.60L300.11,158.10L300.17,158.60L300.24,159.10L300.30,159.60L300.36,160.10L300.42,160.60L300.48,161.10L300.54,161.60L300.59,162.10L300.65,162.60L300.70,163.10L300.75,163.60L300.80,164.10L300.85,164.60L300.89,165.10L300.93,165.60L300.98,166.10L301.01,166.60L301.05,167.10L301.09,167.60L301.12,168.10L301.16,168.60L301.19,169.10L301.22,169.60L301.25,170.10L301.28,170.60L301.31,171.10L301.34,171.60L301.36,172.10L301.39,172.60L301.41,173.10L301.43,173.60L301.45,174.10L301.47,174.60L301.49,175.10L301.50,175.40L301.80,175.40Z" fill="#c4c4c4" fill-opacity="0.5" stroke="#282828" stroke-width="1.1" stroke-linejoin="round"/>
<path d="M301.80,29.10L307.60,29.10L307.38,29.60L307.18,30.10L306.98,30.60L306.78,31.10L306.58,31.60L306.38,32.10L306.18,32.60L305.97,33.10L305.77,33.60L305.56,34.10L305.35,34.60L305.14,35.10L304.92,35.60L304.71,36.10L304.50,36.60L304.30,37.10L304.09,37.60L303.88,38.10L303.68,38.60L303.48,39.10L303.28,39.60L303.09,40.10L302.92,40.60L302.76,41.10L302.62,41.60L302.51,42.10L302.43,42.60L302.38,43.10L302.38,43.60L302.42,44.10L302.52,44.60L302.66,45.10L302.85,45.60L303.08,46.10L303.33,46.60L303.60,47.10L303.88,47.60L304.15,48.10L304.41,48.60L304.67,49.10L304.91,49.60L305.14,50.10L305.37,50.60L305.58,51.10L305.78,51.60L305.97,52.10L306.15,52.60L306.32,53.10L306.48,53.60L306.63,54.10L306.77,54.60L306.90,55.10L307.03,55.60L307.15,56.10L307.26,56.60L307.36,57.10L307.45,57.60L307.54,58.10L307.62,58.60L307.69,59.10L307.76,59.60L307.83,60.10L307.90,60.60L307.97,61.10L308.04,61.60L308.13,62.10L308.22,62.60L308.33,63.10L308.45,63.60L308.57,64.10L308.72,64.60L308.87,65.10L309.04,65.60L309.22,66.10L309.42,66.60L309.62,67.10L309.85,67.60L310.08,68.10L310.33,68.60L310.59,69.10L310.87,69.60L311.15,70.10L311.45,70.60L311.75,71.10L312.06,71.60L312.38,72.10L312.71,72.60L313.04,73.10L313.38,73.60L313.72,74.10L314.06,74.60L314.40,75.10L314.74,75.60L315.08,76.10L315.43,76.60L315.77,77.10L316.12,77.60L316.48,78.10L316.84,78.60L317.21,79.10L317.58,79.60L317.97,80.10L318.37,80.60L318.77,81.10L319.17,81.60L319.58,82.10L319.99,82.60L320.40,83.10L320.79,83.60L321.18,84.10L321.56,84.60L321.93,85.10L322.29,85.60L322.63,86.10L322.97,86.60L323.30,87.10L323.62,87.60L323.94,88.10L324.25,88.60L324.54,89.10L324.84,89.60L325.12,90.10L325.40,90.60L325.67,91.10L325.94,91.60L326.20,92.10L326.45,92.60L326.69,93.10L326.92,93.60L327.14,94.10L327.35,94.60L327.53,95.10L327.70,95.60L327.86,96.10L327.99,96.60L328.11,97.10L328.22,97.60L328.31,98.10L328.39,98.60L328.46,99.10L328.51,99.60L328.55,100.10L328.56,100.60L328.55,101.10L328.52,101.60L328.46,102.10L328.37,102.60L328.25,103.10L328.12,103.60L327.96,104.10L327.78,104.60L327.58,105.10L327.36,105.60L327.13,106.10L326.89,106.60L326.63,107.10L326.36,107.60L326.08,108.10L325.80,108.60L325.52,109.10L325.24,109.60L324.96,110.10L324.69,110.60L324.42,111.10L324.15,111.60L323.89,112.10L323.63,112.60L323.38,113.10L323.14,113.60L322.91,114.10L322.69,114.60L322.48,115.10L322.29,115.60L322.10,116.10L321.92,116.60L321.76,117.10L321.59,117.60L321.44,118.10L321.29,118.60L321.15,119.10L321.01,119.60L320.88,120.10L320.75,120.60L320.62,121.10L320.50,121.60L320.38,122.10L320.26,122.60L320.14,123.10L320.01,123.60L319.87,124.10L319.73,124.60L319.58,125.10L319.41,125.60L319.24,126.10L319.05,126.60L318.85,127.10L318.64,127.60L318.42,128.10L318.19,128.60L317.94,129.10L317.68,129.60L317.40,130.10L317.11,130.60L316.80,131.10L316.48,131.60L316.14,132.10L315.80,132.60L315.44,133.10L315.07,133.60L314.70,134.10L314.32,134.60L313.94,135.10L313.56,135.60L313.17,136.10L312.78,136.60L312.40,137.10L312.02,137.60L311.65,138.10L311.29,138.60L310.95,139.10L310.63,139.60L310.32,140.10L310.03,140.60L309.76,141.10L309.50,141.60L309.26,142.10L309.03,142.60L308.81,143.10L308.60,143.60L308.41,144.10L308.23,144.60L308.06,145.10L307.90,145.60L307.75,146.10L307.60,146.60L307.47,147.10L307.34,147.60L307.21,148.10L307.09,148.60L306.97,149.10L306.85,149.60L306.74,150.10L306.62,150.60L306.51,151.10L306.40,151.60L306.29,152.10L306.18,152.60L306.07,153.10L305.97,153.60L305.86,154.10L305.76,154.60L305.66,155.10L305.56,155.60L305.46,156.10L305.37,156.60L305.27,157.10L305.18,157.60L305.09,158.10L305.00,158.60L304.92,159.10L304.83,159.60L304.75,160.10L304.67,160.60L304.59,161.10L304.51,161.60L304.43,162.10L304.36,162.60L304.28,163.10L304.20,163.60L304.13,164.10L304.05,164.60L303.98,165.10L303.90,165.60L303.83,166.10L303.76,166.60L303.68,167.10L303.61,167.60L303.53,168.10L303.46,168.60L303.39,169.10L303.31,169.60L303.24,170.10L303.17,170.60L303.10,171.10L303.03,171.60L302.96,172.10L302.89,172.60L302.82,173.10L302.75,173.60L302.68,174.10L302.60,174.60L302.35,180.00L302.30,235.50L301.80,235.50Z" fill="#616161" fill-opacity="0.5" stroke="#282828" stroke-width="1.1" stroke-linejoin="round"/>
<rect x="298.40" y="81.4" width="3.40" height="28.20" fill="#d6d6d6" stroke="#282828" stroke-width="1.1"/>
<line x1="298.40" x2="301.80" y1="97.4" y2="97.4" stroke="#282828" stroke-width="1.2"/>
<rect x="301.80" y="90.2" width="3.30" height="33.90" fill="#646464" stroke="#3a3a3a" stroke-width="1.1"/>
<line x1="301.80" x2="305.10" y1="104.2" y2="104.2" stroke="#2a2a2a" stroke-width="1.2"/>
<path d="M62.30,355.50L62.10,355.50L62.05,356.00L62.01,356.50L61.97,357.00L61.92,357.50L61.88,358.00L61.84,358.50L61.79,359.00L61.75,359.50L61.70,360.00L61.65,360.50L61.61,361.00L61.56,361.50L61.51,362.00L61.46,362.50L61.41,363.00L61.36,363.50L61.30,364.00L61.24,364.50L61.18,365.00L61.11,365.50L61.04,366.00L60.97,366.50L60.89,367.00L60.81,367.50L60.72,368.00L60.64,368.50L60.55,369.00L60.47,369.50L60.38,370.00L60.29,370.50L60.21,371.00L60.12,371.50L60.04,372.00L59.96,372.50L59.87,373.00L59.79,373.50L59.71,374.00L59.63,374.50L59.55,375.00L59.47,375.50L59.39,376.00L59.31,376.50L59.23,377.00L59.16,377.50L59.08,378.00L59.01,378.50L58.93,379.00L58.86,379.50L58.80,380.00L58.73,380.50L58.66,381.00L58.60,381.50L58.53,382.00L58.47,382.50L58.41,383.00L58.35,383.50L58.29,384.00L58.23,384.50L58.17,385.00L58.12,385.50L58.06,386.00L58.00,386.50L57.94,387.00L57.88,387.50L57.83,388.00L57.77,388.50L57.71,389.00L57.66,389.50L57.60,390.00L57.55,390.50L57.49,391.00L57.44,391.50L57.38,392.00L57.33,392.50L57.27,393.00L57.21,393.50L57.15,394.00L57.08,394.50L57.01,395.00L56.93,395.50L56.85,396.00L56.76,396.50L56.66,397.00L56.55,397.50L56.44,398.00L56.32,398.50L56.19,399.00L56.05,399.50L55.90,400.00L55.75,400.50L55.59,401.00L55.42,401.50L55.25,402.00L55.07,402.50L54.88,403.00L54.69,403.50L54.49,404.00L54.29,404.50L54.08,405.00L53.88,405.50L53.68,406.00L53.48,406.50L53.28,407.00L53.09,407.50L52.89,408.00L52.70,408.50L52.51,409.00L52.32,409.50L52.14,410.00L51.95,410.50L51.76,411.00L51.57,411.50L51.38,412.00L51.19,412.50L50.99,413.00L50.80,413.50L50.60,414.00L50.40,414.50L50.21,415.00L50.01,415.50L49.81,416.00L49.61,416.50L49.41,417.00L49.21,417.50L49.01,418.00L48.81,418.50L48.61,419.00L48.41,419.50L48.21,420.00L48.02,420.50L47.82,421.00L47.63,421.50L47.44,422.00L47.25,422.50L47.06,423.00L46.87,423.50L46.69,424.00L46.50,424.50L46.31,425.00L46.13,425.50L45.94,426.00L45.76,426.50L45.57,427.00L45.39,427.50L45.20,428.00L45.02,428.50L44.83,429.00L44.65,429.50L44.46,430.00L44.26,430.50L44.06,431.00L43.85,431.50L43.63,432.00L43.41,432.50L43.18,433.00L42.95,433.50L42.72,434.00L42.50,434.50L42.28,435.00L42.08,435.50L41.88,436.00L41.70,436.50L41.52,437.00L41.36,437.50L41.20,438.00L41.04,438.50L40.89,439.00L40.75,439.50L40.60,440.00L40.46,440.50L40.32,441.00L40.18,441.50L40.05,442.00L39.92,442.50L39.81,443.00L39.70,443.50L39.60,444.00L39.52,444.50L39.45,445.00L39.38,445.50L39.33,446.00L39.28,446.50L39.24,447.00L39.21,447.50L39.18,448.00L39.16,448.50L39.14,449.00L39.13,449.50L39.12,450.00L39.11,450.50L39.11,451.00L39.10,451.50L39.10,452.00L39.10,452.50L39.10,453.00L39.11,453.50L39.11,454.00L39.12,454.50L39.14,455.00L39.16,455.50L39.18,456.00L39.22,456.50L39.26,457.00L39.31,457.50L39.37,458.00L39.43,458.50L39.49,459.00L39.57,459.50L39.64,460.00L39.73,460.50L39.81,461.00L39.91,461.50L40.00,462.00L40.11,462.50L40.21,463.00L40.31,463.50L40.42,464.00L40.52,464.50L40.63,465.00L40.73,465.50L40.83,466.00L40.93,466.50L41.03,467.00L41.13,467.50L41.23,468.00L41.34,468.50L41.45,469.00L41.56,469.50L41.68,470.00L41.81,470.50L41.94,471.00L42.08,471.50L42.22,472.00L42.37,472.50L42.53,473.00L42.69,473.50L42.85,474.00L43.03,474.50L43.21,475.00L43.39,475.50L43.58,476.00L43.78,476.50L43.98,477.00L44.19,477.50L44.41,478.00L44.63,478.50L44.86,479.00L45.09,479.50L45.32,480.00L45.56,480.50L45.81,481.00L46.05,481.50L46.31,482.00L46.56,482.50L46.82,483.00L47.08,483.50L47.33,484.00L47.59,484.50L47.85,485.00L48.11,485.50L48.36,486.00L48.61,486.50L48.87,487.00L49.12,487.50L49.36,488.00L49.61,488.50L49.85,489.00L50.08,489.50L50.31,490.00L50.54,490.50L50.77,491.00L50.99,491.50L51.20,492.00L51.42,492.50L51.63,493.00L51.84,493.50L52.05,494.00L52.26,494.50L52.46,495.00L52.67,495.50L52.88,496.00L53.08,496.50L53.28,497.00L53.49,497.50L53.69,498.00L53.90,498.50L54.10,499.00L54.30,499.50L54.50,500.00L54.70,500.50L54.90,501.00L55.10,501.50L55.30,502.00L55.50,502.50L55.70,503.00L55.90,503.50L56.11,504.00L56.31,504.50L56.51,505.00L56.71,505.50L56.91,506.00L57.11,506.50L57.31,507.00L57.50,507.50L57.69,508.00L57.88,508.50L58.06,509.00L58.25,509.50L58.42,510.00L58.60,510.50L58.77,511.00L58.94,511.50L59.10,512.00L59.27,512.50L59.43,513.00L59.58,513.50L59.74,514.00L59.88,514.50L60.03,515.00L60.18,515.50L60.33,516.00L60.40,516.20L62.30,516.20Z" fill="#c4c4c4" fill-opacity="0.5" stroke="#282828" stroke-width="1.1" stroke-linejoin="round"/>
<path d="M62.30,310.00L62.55,310.00L62.85,327.00L63.10,340.00L63.30,350.00L63.55,358.00L63.56,358.50L63.58,359.00L63.60,359.50L63.61,360.00L63.63,360.50L63.65,361.00L63.67,361.50L63.70,362.00L63.72,362.50L63.75,363.00L63.77,363.50L63.80,364.00L63.83,364.50L63.86,365.00L63.89,365.50L63.92,366.00L63.95,366.50L63.99,367.00L64.03,367.50L64.07,368.00L64.11,368.50L64.15,369.00L64.20,369.50L64.25,370.00L64.30,370.50L64.35,371.00L64.41,371.50L64.47,372.00L64.54,372.50L64.61,373.00L64.69,373.50L64.77,374.00L64.85,374.50L64.94,375.00L65.03,375.50L65.13,376.00L65.22,376.50L65.32,377.00L65.42,377.50L65.52,378.00L65.62,378.50L65.72,379.00L65.82,379.50L65.92,380.00L66.02,380.50L66.12,381.00L66.22,381.50L66.32,382.00L66.42,382.50L66.52,383.00L66.63,383.50L66.73,384.00L66.83,384.50L66.94,385.00L67.04,385.50L67.14,386.00L67.25,386.50L67.35,387.00L67.46,387.50L67.56,388.00L67.66,388.50L67.77,389.00L67.87,389.50L67.98,390.00L68.08,390.50L68.19,391.00L68.29,391.50L68.40,392.00L68.50,392.50L68.61,393.00L68.71,393.50L68.81,394.00L68.91,394.50L69.01,395.00L69.10,395.50L69.20,396.00L69.29,396.50L69.38,397.00L69.46,397.50L69.55,398.00L69.63,398.50L69.71,399.00L69.80,399.50L69.88,400.00L69.95,400.50L70.03,401.00L70.11,401.50L70.19,402.00L70.27,402.50L70.35,403.00L70.42,403.50L70.50,404.00L70.59,404.50L70.67,405.00L70.76,405.50L70.85,406.00L70.94,406.50L71.05,407.00L71.15,407.50L71.26,408.00L71.37,408.50L71.49,409.00L71.62,409.50L71.75,410.00L71.88,410.50L72.02,411.00L72.17,411.50L72.32,412.00L72.48,412.50L72.64,413.00L72.82,413.50L73.00,414.00L73.19,414.50L73.39,415.00L73.60,415.50L73.81,416.00L74.03,416.50L74.26,417.00L74.49,417.50L74.73,418.00L74.97,418.50L75.22,419.00L75.47,419.50L75.72,420.00L75.98,420.50L76.24,421.00L76.49,421.50L76.75,422.00L77.00,422.50L77.25,423.00L77.51,423.50L77.76,424.00L78.01,424.50L78.26,425.00L78.50,425.50L78.74,426.00L78.98,426.50L79.20,427.00L79.40,427.50L79.59,428.00L79.76,428.50L79.92,429.00L80.06,429.50L80.19,430.00L80.30,430.50L80.41,431.00L80.52,431.50L80.61,432.00L80.70,432.50L80.79,433.00L80.87,433.50L80.94,434.00L81.00,434.50L81.06,435.00L81.11,435.50L81.15,436.00L81.19,436.50L81.23,437.00L81.26,437.50L81.29,438.00L81.32,438.50L81.35,439.00L81.37,439.50L81.40,440.00L81.43,440.50L81.46,441.00L81.49,441.50L81.52,442.00L81.55,442.50L81.58,443.00L81.61,443.50L81.65,444.00L81.68,444.50L81.72,445.00L81.76,445.50L81.80,446.00L81.85,446.50L81.89,447.00L81.94,447.50L81.99,448.00L82.05,448.50L82.11,449.00L82.17,449.50L82.23,450.00L82.29,450.50L82.36,451.00L82.44,451.50L82.51,452.00L82.59,452.50L82.67,453.00L82.76,453.50L82.85,454.00L82.95,454.50L83.05,455.00L83.16,455.50L83.27,456.00L83.39,456.50L83.50,457.00L83.62,457.50L83.74,458.00L83.86,458.50L83.98,459.00L84.09,459.50L84.19,460.00L84.29,460.50L84.39,461.00L84.48,461.50L84.57,462.00L84.65,462.50L84.73,463.00L84.81,463.50L84.88,464.00L84.94,464.50L85.01,465.00L85.06,465.50L85.12,466.00L85.17,466.50L85.21,467.00L85.25,467.50L85.29,468.00L85.32,468.50L85.33,469.00L85.35,469.50L85.35,470.00L85.34,470.50L85.32,471.00L85.30,471.50L85.27,472.00L85.23,472.50L85.18,473.00L85.13,473.50L85.07,474.00L85.01,474.50L84.94,475.00L84.86,475.50L84.78,476.00L84.68,476.50L84.58,477.00L84.47,477.50L84.35,478.00L84.22,478.50L84.08,479.00L83.93,479.50L83.77,480.00L83.59,480.50L83.40,481.00L83.20,481.50L82.99,482.00L82.76,482.50L82.53,483.00L82.28,483.50L82.03,484.00L81.77,484.50L81.50,485.00L81.23,485.50L80.95,486.00L80.66,486.50L80.36,487.00L80.06,487.50L79.75,488.00L79.44,488.50L79.13,489.00L78.82,489.50L78.50,490.00L78.18,490.50L77.85,491.00L77.53,491.50L77.20,492.00L76.87,492.50L76.54,493.00L76.22,493.50L75.89,494.00L75.56,494.50L75.24,495.00L74.92,495.50L74.61,496.00L74.30,496.50L73.99,497.00L73.68,497.50L73.38,498.00L73.08,498.50L72.79,499.00L72.49,499.50L72.20,500.00L71.91,500.50L71.63,501.00L71.35,501.50L71.07,502.00L70.79,502.50L70.51,503.00L70.24,503.50L69.97,504.00L69.70,504.50L69.43,505.00L69.17,505.50L68.90,506.00L68.65,506.50L68.39,507.00L68.14,507.50L67.89,508.00L67.64,508.50L67.40,509.00L67.17,509.50L66.93,510.00L66.70,510.50L66.48,511.00L66.25,511.50L66.03,512.00L65.82,512.50L65.60,513.00L65.39,513.50L65.19,514.00L64.99,514.50L64.80,515.00L64.60,515.50L64.40,516.00L64.30,516.20L62.30,516.20Z" fill="#616161" fill-opacity="0.5" stroke="#282828" stroke-width="1.1" stroke-linejoin="round"/>
<rect x="58.90" y="430" width="3.40" height="46.10" fill="#d6d6d6" stroke="#282828" stroke-width="1.1"/>
<line x1="58.90" x2="62.30" y1="449.6" y2="449.6" stroke="#282828" stroke-width="1.2"/>
<rect x="62.30" y="430" width="3.60" height="46.10" fill="#646464" stroke="#3a3a3a" stroke-width="1.1"/>
<line x1="62.30" x2="65.90" y1="456.2" y2="456.2" stroke="#2a2a2a" stroke-width="1.2"/>
<path d="M125.30,363.20L124.75,363.20L124.75,363.70L124.75,364.20L124.75,364.70L124.75,365.20L124.75,365.70L124.75,366.20L124.75,366.70L124.75,367.20L124.75,367.70L124.75,368.20L124.74,368.70L124.74,369.20L124.74,369.70L124.74,370.20L124.74,370.70L124.74,371.20L124.74,371.70L124.74,372.20L124.73,372.70L124.73,373.20L124.73,373.70L124.73,374.20L124.73,374.70L124.72,375.20L124.72,375.70L124.72,376.20L124.72,376.70L124.71,377.20L124.71,377.70L124.71,378.20L124.70,378.70L124.70,379.20L124.69,379.70L124.68,380.20L124.66,380.70L124.65,381.20L124.63,381.70L124.60,382.20L124.58,382.70L124.55,383.20L124.51,383.70L124.48,384.20L124.44,384.70L124.39,385.20L124.35,385.70L124.30,386.20L124.24,386.70L124.19,387.20L124.12,387.70L124.05,388.20L123.98,388.70L123.90,389.20L123.81,389.70L123.71,390.20L123.61,390.70L123.50,391.20L123.38,391.70L123.25,392.20L123.11,392.70L122.96,393.20L122.80,393.70L122.64,394.20L122.47,394.70L122.29,395.20L122.10,395.70L121.92,396.20L121.72,396.70L121.52,397.20L121.32,397.70L121.12,398.20L120.91,398.70L120.70,399.20L120.48,399.70L120.27,400.20L120.06,400.70L119.85,401.20L119.63,401.70L119.42,402.20L119.21,402.70L119.01,403.20L118.81,403.70L118.61,404.20L118.41,404.70L118.23,405.20L118.05,405.70L117.88,406.20L117.71,406.70L117.56,407.20L117.41,407.70L117.27,408.20L117.13,408.70L117.01,409.20L116.88,409.70L116.77,410.20L116.66,410.70L116.55,411.20L116.45,411.70L116.36,412.20L116.27,412.70L116.18,413.20L116.10,413.70L116.02,414.20L115.94,414.70L115.85,415.20L115.77,415.70L115.68,416.20L115.59,416.70L115.50,417.20L115.41,417.70L115.31,418.20L115.21,418.70L115.11,419.20L115.01,419.70L114.90,420.20L114.80,420.70L114.69,421.20L114.58,421.70L114.46,422.20L114.33,422.70L114.19,423.20L114.03,423.70L113.85,424.20L113.65,424.70L113.42,425.20L113.16,425.70L112.87,426.20L112.55,426.70L112.22,427.20L111.86,427.70L111.49,428.20L111.11,428.70L110.70,429.20L110.29,429.70L109.86,430.20L109.42,430.70L108.97,431.20L108.51,431.70L108.04,432.20L107.56,432.70L107.07,433.20L106.58,433.70L106.09,434.20L105.61,434.70L105.14,435.20L104.68,435.70L104.24,436.20L103.81,436.70L103.41,437.20L103.02,437.70L102.65,438.20L102.29,438.70L101.96,439.20L101.64,439.70L101.33,440.20L101.04,440.70L100.77,441.20L100.51,441.70L100.27,442.20L100.04,442.70L99.83,443.20L99.63,443.70L99.44,444.20L99.28,444.70L99.13,445.20L99.00,445.70L98.89,446.20L98.81,446.70L98.75,447.20L98.71,447.70L98.69,448.20L98.69,448.70L98.70,449.20L98.73,449.70L98.77,450.20L98.82,450.70L98.89,451.20L98.96,451.70L99.05,452.20L99.13,452.70L99.23,453.20L99.31,453.70L99.39,454.20L99.45,454.70L99.50,455.20L99.53,455.70L99.54,456.20L99.53,456.70L99.50,457.20L99.45,457.70L99.37,458.20L99.27,458.70L99.13,459.20L98.98,459.70L98.81,460.20L98.63,460.70L98.44,461.20L98.25,461.70L98.07,462.20L97.90,462.70L97.75,463.20L97.62,463.70L97.52,464.20L97.44,464.70L97.39,465.20L97.35,465.70L97.34,466.20L97.33,466.70L97.35,467.20L97.38,467.70L97.42,468.20L97.49,468.70L97.59,469.20L97.71,469.70L97.85,470.20L98.02,470.70L98.21,471.20L98.41,471.70L98.62,472.20L98.84,472.70L99.07,473.20L99.30,473.70L99.54,474.20L99.79,474.70L100.04,475.20L100.31,475.70L100.57,476.20L100.85,476.70L101.13,477.20L101.42,477.70L101.71,478.20L102.02,478.70L102.33,479.20L102.64,479.70L102.96,480.20L103.29,480.70L103.62,481.20L103.95,481.70L104.29,482.20L104.62,482.70L104.96,483.20L105.29,483.70L105.63,484.20L105.96,484.70L106.29,485.20L106.63,485.70L106.96,486.20L107.29,486.70L107.63,487.20L107.96,487.70L108.30,488.20L108.64,488.70L108.97,489.20L109.31,489.70L109.66,490.20L110.00,490.70L110.35,491.20L110.70,491.70L111.05,492.20L111.40,492.70L111.76,493.20L112.12,493.70L112.48,494.20L112.84,494.70L113.20,495.20L113.56,495.70L113.91,496.20L114.27,496.70L114.62,497.20L114.96,497.70L115.31,498.20L115.65,498.70L115.98,499.20L116.31,499.70L116.64,500.20L116.97,500.70L117.29,501.20L117.61,501.70L117.93,502.20L118.24,502.70L118.55,503.20L118.85,503.70L119.14,504.20L119.43,504.70L119.71,505.20L119.99,505.70L120.25,506.20L120.51,506.70L120.76,507.20L121.01,507.70L121.24,508.20L121.48,508.70L121.70,509.20L121.92,509.70L122.13,510.20L122.34,510.70L122.55,511.20L122.74,511.70L122.94,512.20L123.13,512.70L123.31,513.20L123.49,513.70L123.66,514.20L123.83,514.70L123.99,515.20L124.16,515.70L124.30,516.10L125.30,516.10Z" fill="#c4c4c4" fill-opacity="0.5" stroke="#282828" stroke-width="1.1" stroke-linejoin="round"/>
<path d="M125.30,336.30L125.80,336.30L125.85,355.00L125.90,363.20L125.90,363.70L125.91,364.20L125.93,364.70L125.95,365.20L125.97,365.70L126.00,366.20L126.03,366.70L126.07,367.20L126.11,367.70L126.17,368.20L126.23,368.70L126.30,369.20L126.38,369.70L126.47,370.20L126.57,370.70L126.67,371.20L126.78,371.70L126.89,372.20L127.00,372.70L127.11,373.20L127.22,373.70L127.32,374.20L127.43,374.70L127.54,375.20L127.64,375.70L127.75,376.20L127.85,376.70L127.96,377.20L128.06,377.70L128.17,378.20L128.27,378.70L128.37,379.20L128.48,379.70L128.58,380.20L128.68,380.70L128.78,381.20L128.89,381.70L128.99,382.20L129.09,382.70L129.19,383.20L129.29,383.70L129.38,384.20L129.48,384.70L129.57,385.20L129.67,385.70L129.76,386.20L129.85,386.70L129.94,387.20L130.03,387.70L130.12,388.20L130.20,388.70L130.28,389.20L130.35,389.70L130.42,390.20L130.49,390.70L130.54,391.20L130.59,391.70L130.64,392.20L130.68,392.70L130.71,393.20L130.74,393.70L130.78,394.20L130.81,394.70L130.84,395.20L130.87,395.70L130.91,396.20L130.94,396.70L130.98,397.20L131.03,397.70L131.07,398.20L131.12,398.70L131.17,399.20L131.23,399.70L131.28,400.20L131.34,400.70L131.41,401.20L131.48,401.70L131.55,402.20L131.63,402.70L131.71,403.20L131.79,403.70L131.89,404.20L131.99,404.70L132.09,405.20L132.20,405.70L132.32,406.20L132.44,406.70L132.58,407.20L132.72,407.70L132.86,408.20L133.02,408.70L133.18,409.20L133.35,409.70L133.52,410.20L133.70,410.70L133.88,411.20L134.07,411.70L134.26,412.20L134.45,412.70L134.65,413.20L134.86,413.70L135.06,414.20L135.27,414.70L135.48,415.20L135.69,415.70L135.91,416.20L136.12,416.70L136.34,417.20L136.56,417.70L136.78,418.20L137.00,418.70L137.23,419.20L137.45,419.70L137.67,420.20L137.89,420.70L138.11,421.20L138.34,421.70L138.56,422.20L138.79,422.70L139.02,423.20L139.26,423.70L139.51,424.20L139.77,424.70L140.04,425.20L140.32,425.70L140.60,426.20L140.89,426.70L141.18,427.20L141.47,427.70L141.75,428.20L142.03,428.70L142.30,429.20L142.57,429.70L142.82,430.20L143.06,430.70L143.29,431.20L143.51,431.70L143.71,432.20L143.89,432.70L144.06,433.20L144.23,433.70L144.38,434.20L144.54,434.70L144.69,435.20L144.85,435.70L145.01,436.20L145.18,436.70L145.35,437.20L145.53,437.70L145.71,438.20L145.89,438.70L146.07,439.20L146.25,439.70L146.43,440.20L146.61,440.70L146.78,441.20L146.95,441.70L147.12,442.20L147.29,442.70L147.46,443.20L147.63,443.70L147.79,444.20L147.96,444.70L148.11,445.20L148.27,445.70L148.42,446.20L148.57,446.70L148.72,447.20L148.85,447.70L148.99,448.20L149.12,448.70L149.24,449.20L149.36,449.70L149.48,450.20L149.59,450.70L149.70,451.20L149.81,451.70L149.91,452.20L150.01,452.70L150.11,453.20L150.20,453.70L150.29,454.20L150.38,454.70L150.46,455.20L150.55,455.70L150.63,456.20L150.70,456.70L150.77,457.20L150.84,457.70L150.90,458.20L150.96,458.70L151.02,459.20L151.07,459.70L151.12,460.20L151.16,460.70L151.20,461.20L151.24,461.70L151.28,462.20L151.31,462.70L151.33,463.20L151.35,463.70L151.36,464.20L151.36,464.70L151.36,465.20L151.35,465.70L151.33,466.20L151.30,466.70L151.27,467.20L151.24,467.70L151.19,468.20L151.14,468.70L151.09,469.20L151.02,469.70L150.94,470.20L150.85,470.70L150.75,471.20L150.62,471.70L150.49,472.20L150.33,472.70L150.17,473.20L149.99,473.70L149.81,474.20L149.61,474.70L149.41,475.20L149.21,475.70L149.00,476.20L148.79,476.70L148.58,477.20L148.36,477.70L148.13,478.20L147.90,478.70L147.66,479.20L147.42,479.70L147.17,480.20L146.92,480.70L146.66,481.20L146.39,481.70L146.12,482.20L145.84,482.70L145.55,483.20L145.25,483.70L144.95,484.20L144.64,484.70L144.32,485.20L143.99,485.70L143.65,486.20L143.30,486.70L142.95,487.20L142.60,487.70L142.24,488.20L141.88,488.70L141.51,489.20L141.15,489.70L140.80,490.20L140.44,490.70L140.08,491.20L139.73,491.70L139.38,492.20L139.03,492.70L138.68,493.20L138.33,493.70L137.99,494.20L137.64,494.70L137.30,495.20L136.95,495.70L136.61,496.20L136.27,496.70L135.94,497.20L135.60,497.70L135.27,498.20L134.94,498.70L134.62,499.20L134.30,499.70L133.97,500.20L133.66,500.70L133.34,501.20L133.03,501.70L132.72,502.20L132.41,502.70L132.10,503.20L131.80,503.70L131.50,504.20L131.20,504.70L130.91,505.20L130.62,505.70L130.33,506.20L130.05,506.70L129.76,507.20L129.48,507.70L129.20,508.20L128.93,508.70L128.66,509.20L128.41,509.70L128.16,510.20L127.93,510.70L127.71,511.20L127.51,511.70L127.31,512.20L127.13,512.70L126.97,513.20L126.83,513.70L126.69,514.20L126.57,514.70L126.46,515.20L126.37,515.70L126.30,516.10L125.30,516.10Z" fill="#616161" fill-opacity="0.5" stroke="#282828" stroke-width="1.1" stroke-linejoin="round"/>
<rect x="121.80" y="443.2" width="3.50" height="32.80" fill="#d6d6d6" stroke="#282828" stroke-width="1.1"/>
<line x1="121.80" x2="125.30" y1="456" y2="456" stroke="#282828" stroke-width="1.2"/>
<rect x="125.30" y="429.3" width="3.40" height="40.10" fill="#646464" stroke="#3a3a3a" stroke-width="1.1"/>
<line x1="125.30" x2="128.70" y1="456" y2="456" stroke="#2a2a2a" stroke-width="1.2"/>
<path d="M239.30,309.60L239.15,309.60L239.15,310.10L239.15,310.60L239.15,311.10L239.14,311.60L239.14,312.10L239.14,312.60L239.13,313.10L239.13,313.60L239.12,314.10L239.12,314.60L239.11,315.10L239.11,315.60L239.10,316.10L239.09,316.60L239.08,317.10L239.07,317.60L239.07,318.10L239.06,318.60L239.05,319.10L239.04,319.60L239.02,320.10L239.01,320.60L239.00,321.10L238.98,321.60L238.96,322.10L238.93,322.60L238.91,323.10L238.88,323.60L238.85,324.10L238.81,324.60L238.78,325.10L238.74,325.60L238.70,326.10L238.67,326.60L238.63,327.10L238.59,327.60L238.55,328.10L238.51,328.60L238.48,329.10L238.43,329.60L238.39,330.10L238.35,330.60L238.30,331.10L238.26,331.60L238.20,332.10L238.15,332.60L238.09,333.10L238.03,333.60L237.97,334.10L237.91,334.60L237.84,335.10L237.77,335.60L237.69,336.10L237.62,336.60L237.54,337.10L237.46,337.60L237.38,338.10L237.29,338.60L237.21,339.10L237.12,339.60L237.03,340.10L236.93,340.60L236.83,341.10L236.73,341.60L236.62,342.10L236.51,342.60L236.38,343.10L236.26,343.60L236.12,344.10L235.98,344.60L235.83,345.10L235.68,345.60L235.52,346.10L235.36,346.60L235.20,347.10L235.03,347.60L234.87,348.10L234.70,348.60L234.53,349.10L234.37,349.60L234.20,350.10L234.04,350.60L233.87,351.10L233.71,351.60L233.54,352.10L233.38,352.60L233.22,353.10L233.07,353.60L232.91,354.10L232.76,354.60L232.62,355.10L232.47,355.60L232.33,356.10L232.19,356.60L232.06,357.10L231.93,357.60L231.80,358.10L231.68,358.60L231.57,359.10L231.46,359.60L231.35,360.10L231.25,360.60L231.16,361.10L231.07,361.60L230.98,362.10L230.89,362.60L230.81,363.10L230.73,363.60L230.65,364.10L230.57,364.60L230.49,365.10L230.42,365.60L230.35,366.10L230.28,366.60L230.22,367.10L230.17,367.60L230.12,368.10L230.08,368.60L230.04,369.10L230.01,369.60L229.98,370.10L229.95,370.60L229.93,371.10L229.90,371.60L229.88,372.10L229.85,372.60L229.82,373.10L229.80,373.60L229.77,374.10L229.74,374.60L229.71,375.10L229.68,375.60L229.64,376.10L229.61,376.60L229.57,377.10L229.54,377.60L229.50,378.10L229.46,378.60L229.42,379.10L229.37,379.60L229.33,380.10L229.28,380.60L229.24,381.10L229.19,381.60L229.14,382.10L229.08,382.60L229.03,383.10L228.97,383.60L228.91,384.10L228.85,384.60L228.79,385.10L228.72,385.60L228.66,386.10L228.59,386.60L228.51,387.10L228.44,387.60L228.36,388.10L228.28,388.60L228.19,389.10L228.11,389.60L228.01,390.10L227.92,390.60L227.82,391.10L227.71,391.60L227.60,392.10L227.49,392.60L227.37,393.10L227.24,393.60L227.11,394.10L226.97,394.60L226.83,395.10L226.67,395.60L226.51,396.10L226.34,396.60L226.16,397.10L225.97,397.60L225.77,398.10L225.57,398.60L225.35,399.10L225.13,399.60L224.90,400.10L224.66,400.60L224.42,401.10L224.18,401.60L223.93,402.10L223.67,402.60L223.41,403.10L223.14,403.60L222.86,404.10L222.58,404.60L222.29,405.10L222.00,405.60L221.71,406.10L221.41,406.60L221.11,407.10L220.81,407.60L220.51,408.10L220.22,408.60L219.93,409.10L219.64,409.60L219.36,410.10L219.08,410.60L218.81,411.10L218.54,411.60L218.28,412.10L218.03,412.60L217.79,413.10L217.55,413.60L217.33,414.10L217.11,414.60L216.90,415.10L216.70,415.60L216.50,416.10L216.32,416.60L216.15,417.10L215.98,417.60L215.83,418.10L215.68,418.60L215.55,419.10L215.42,419.60L215.29,420.10L215.17,420.60L215.06,421.10L214.95,421.60L214.85,422.10L214.75,422.60L214.65,423.10L214.56,423.60L214.47,424.10L214.39,424.60L214.32,425.10L214.26,425.60L214.22,426.10L214.18,426.60L214.16,427.10L214.15,427.60L214.16,428.10L214.17,428.60L214.18,429.10L214.21,429.60L214.24,430.10L214.28,430.60L214.33,431.10L214.39,431.60L214.47,432.10L214.56,432.60L214.66,433.10L214.77,433.60L214.90,434.10L215.04,434.60L215.19,435.10L215.35,435.60L215.51,436.10L215.69,436.60L215.88,437.10L216.07,437.60L216.27,438.10L216.48,438.60L216.69,439.10L216.91,439.60L217.12,440.10L217.34,440.60L217.56,441.10L217.79,441.60L218.01,442.10L218.23,442.60L218.46,443.10L218.68,443.60L218.91,444.10L219.14,444.60L219.37,445.10L219.61,445.60L219.84,446.10L220.08,446.60L220.32,447.10L220.56,447.60L220.80,448.10L221.05,448.60L221.30,449.10L221.55,449.60L221.80,450.10L222.05,450.60L222.31,451.10L222.56,451.60L222.81,452.10L223.06,452.60L223.30,453.10L223.54,453.60L223.78,454.10L224.02,454.60L224.25,455.10L224.48,455.60L224.71,456.10L224.93,456.60L225.16,457.10L225.38,457.60L225.60,458.10L225.81,458.60L226.03,459.10L226.24,459.60L226.46,460.10L226.67,460.60L226.88,461.10L227.09,461.60L227.29,462.10L227.50,462.60L227.70,463.10L227.90,463.60L228.11,464.10L228.30,464.60L228.50,465.10L228.70,465.60L228.89,466.10L229.08,466.60L229.27,467.10L229.45,467.60L229.64,468.10L229.82,468.60L230.00,469.10L230.18,469.60L230.35,470.10L230.53,470.60L230.70,471.10L230.87,471.60L231.03,472.10L231.19,472.60L231.35,473.10L231.51,473.60L231.66,474.10L231.81,474.60L231.95,475.10L232.09,475.60L232.23,476.10L232.37,476.60L232.50,477.10L232.63,477.60L232.76,478.10L232.89,478.60L233.02,479.10L233.14,479.60L233.27,480.10L233.40,480.60L233.53,481.10L233.66,481.60L233.79,482.10L233.93,482.60L234.06,483.10L234.20,483.60L234.33,484.10L234.47,484.60L234.60,485.10L234.73,485.60L234.86,486.10L234.99,486.60L235.12,487.10L235.24,487.60L235.36,488.10L235.48,488.60L235.59,489.10L235.71,489.60L235.82,490.10L235.92,490.60L236.03,491.10L236.13,491.60L236.24,492.10L236.34,492.60L236.43,493.10L236.53,493.60L236.63,494.10L236.72,494.60L236.81,495.10L236.90,495.60L236.99,496.10L237.08,496.60L237.17,497.10L237.25,497.60L237.34,498.10L237.42,498.60L237.50,499.10L237.58,499.60L237.65,500.10L237.72,500.60L237.79,501.10L237.86,501.60L237.92,502.10L237.98,502.60L238.04,503.10L238.09,503.60L238.15,504.10L238.20,504.60L238.25,505.10L238.30,505.60L238.35,506.10L238.40,506.60L238.45,507.10L238.50,507.60L238.55,508.10L238.60,508.60L238.66,509.10L238.72,509.60L238.78,510.10L238.84,510.60L238.90,511.00L239.30,511.00Z" fill="#c4c4c4" fill-opacity="0.5" stroke="#282828" stroke-width="1.1" stroke-linejoin="round"/>
<path d="M239.30,309.60L239.50,309.60L239.50,310.10L239.50,310.60L239.50,311.10L239.51,311.60L239.51,312.10L239.51,312.60L239.52,313.10L239.52,313.60L239.53,314.10L239.53,314.60L239.54,315.10L239.55,315.60L239.55,316.10L239.56,316.60L239.57,317.10L239.58,317.60L239.59,318.10L239.59,318.60L239.60,319.10L239.61,319.60L239.63,320.10L239.64,320.60L239.65,321.10L239.67,321.60L239.69,322.10L239.71,322.60L239.73,323.10L239.75,323.60L239.78,324.10L239.81,324.60L239.84,325.10L239.87,325.60L239.91,326.10L239.94,326.60L239.97,327.10L240.01,327.60L240.05,328.10L240.09,328.60L240.12,329.10L240.16,329.60L240.21,330.10L240.25,330.60L240.30,331.10L240.34,331.60L240.39,332.10L240.44,332.60L240.49,333.10L240.55,333.60L240.61,334.10L240.66,334.60L240.72,335.10L240.78,335.60L240.85,336.10L240.91,336.60L240.97,337.10L241.04,337.60L241.10,338.10L241.16,338.60L241.23,339.10L241.30,339.60L241.36,340.10L241.43,340.60L241.50,341.10L241.57,341.60L241.64,342.10L241.72,342.60L241.80,343.10L241.89,343.60L241.97,344.10L242.06,344.60L242.16,345.10L242.26,345.60L242.36,346.10L242.46,346.60L242.57,347.10L242.69,347.60L242.80,348.10L242.92,348.60L243.05,349.10L243.18,349.60L243.32,350.10L243.46,350.60L243.60,351.10L243.74,351.60L243.89,352.10L244.04,352.60L244.20,353.10L244.35,353.60L244.50,354.10L244.66,354.60L244.82,355.10L244.97,355.60L245.13,356.10L245.29,356.60L245.45,357.10L245.60,357.60L245.76,358.10L245.91,358.60L246.06,359.10L246.21,359.60L246.36,360.10L246.51,360.60L246.65,361.10L246.80,361.60L246.94,362.10L247.09,362.60L247.23,363.10L247.39,363.60L247.54,364.10L247.70,364.60L247.86,365.10L248.03,365.60L248.19,366.10L248.35,366.60L248.51,367.10L248.65,367.60L248.79,368.10L248.91,368.60L249.03,369.10L249.14,369.60L249.24,370.10L249.33,370.60L249.42,371.10L249.50,371.60L249.57,372.10L249.64,372.60L249.71,373.10L249.76,373.60L249.82,374.10L249.87,374.60L249.91,375.10L249.95,375.60L249.99,376.10L250.03,376.60L250.06,377.10L250.09,377.60L250.12,378.10L250.15,378.60L250.18,379.10L250.20,379.60L250.22,380.10L250.24,380.60L250.26,381.10L250.28,381.60L250.30,382.10L250.31,382.60L250.33,383.10L250.35,383.60L250.37,384.10L250.38,384.60L250.40,385.10L250.42,385.60L250.44,386.10L250.47,386.60L250.49,387.10L250.51,387.60L250.54,388.10L250.57,388.60L250.60,389.10L250.63,389.60L250.67,390.10L250.71,390.60L250.76,391.10L250.82,391.60L250.88,392.10L250.95,392.60L251.02,393.10L251.10,393.60L251.19,394.10L251.29,394.60L251.40,395.10L251.51,395.60L251.63,396.10L251.76,396.60L251.90,397.10L252.06,397.60L252.22,398.10L252.40,398.60L252.58,399.10L252.78,399.60L252.98,400.10L253.19,400.60L253.40,401.10L253.63,401.60L253.85,402.10L254.09,402.60L254.33,403.10L254.58,403.60L254.83,404.10L255.08,404.60L255.35,405.10L255.61,405.60L255.89,406.10L256.17,406.60L256.45,407.10L256.74,407.60L257.03,408.10L257.33,408.60L257.64,409.10L257.94,409.60L258.26,410.10L258.57,410.60L258.88,411.10L259.20,411.60L259.50,412.10L259.81,412.60L260.11,413.10L260.40,413.60L260.68,414.10L260.96,414.60L261.22,415.10L261.48,415.60L261.73,416.10L261.96,416.60L262.18,417.10L262.38,417.60L262.58,418.10L262.76,418.60L262.92,419.10L263.08,419.60L263.23,420.10L263.36,420.60L263.49,421.10L263.62,421.60L263.73,422.10L263.84,422.60L263.95,423.10L264.04,423.60L264.13,424.10L264.21,424.60L264.28,425.10L264.34,425.60L264.39,426.10L264.42,426.60L264.44,427.10L264.45,427.60L264.45,428.10L264.43,428.60L264.41,429.10L264.39,429.60L264.35,430.10L264.30,430.60L264.23,431.10L264.15,431.60L264.05,432.10L263.92,432.60L263.78,433.10L263.61,433.60L263.43,434.10L263.24,434.60L263.03,435.10L262.81,435.60L262.59,436.10L262.36,436.60L262.13,437.10L261.89,437.60L261.64,438.10L261.39,438.60L261.13,439.10L260.86,439.60L260.59,440.10L260.31,440.60L260.03,441.10L259.74,441.60L259.44,442.10L259.15,442.60L258.84,443.10L258.54,443.60L258.23,444.10L257.92,444.60L257.62,445.10L257.32,445.60L257.02,446.10L256.73,446.60L256.44,447.10L256.16,447.60L255.88,448.10L255.60,448.60L255.33,449.10L255.07,449.60L254.81,450.10L254.55,450.60L254.30,451.10L254.05,451.60L253.82,452.10L253.59,452.60L253.36,453.10L253.15,453.60L252.95,454.10L252.75,454.60L252.56,455.10L252.38,455.60L252.20,456.10L252.03,456.60L251.87,457.10L251.71,457.60L251.55,458.10L251.39,458.60L251.24,459.10L251.09,459.60L250.94,460.10L250.79,460.60L250.64,461.10L250.49,461.60L250.35,462.10L250.20,462.60L250.06,463.10L249.91,463.60L249.77,464.10L249.63,464.60L249.49,465.10L249.36,465.60L249.22,466.10L249.09,466.60L248.97,467.10L248.84,467.60L248.72,468.10L248.60,468.60L248.49,469.10L248.38,469.60L248.27,470.10L248.16,470.60L248.05,471.10L247.94,471.60L247.83,472.10L247.72,472.60L247.61,473.10L247.49,473.60L247.38,474.10L247.25,474.60L247.13,475.10L247.00,475.60L246.87,476.10L246.73,476.60L246.59,477.10L246.45,477.60L246.31,478.10L246.17,478.60L246.03,479.10L245.90,479.60L245.76,480.10L245.62,480.60L245.49,481.10L245.36,481.60L245.24,482.10L245.11,482.60L244.99,483.10L244.87,483.60L244.75,484.10L244.63,484.60L244.51,485.10L244.40,485.60L244.28,486.10L244.17,486.60L244.05,487.10L243.94,487.60L243.82,488.10L243.71,488.60L243.59,489.10L243.48,489.60L243.37,490.10L243.25,490.60L243.14,491.10L243.03,491.60L242.92,492.10L242.81,492.60L242.70,493.10L242.60,493.60L242.49,494.10L242.39,494.60L242.29,495.10L242.19,495.60L242.09,496.10L242.00,496.60L241.91,497.10L241.81,497.60L241.72,498.10L241.64,498.60L241.55,499.10L241.46,499.60L241.38,500.10L241.30,500.60L241.22,501.10L241.14,501.60L241.06,502.10L240.98,502.60L240.91,503.10L240.83,503.60L240.76,504.10L240.69,504.60L240.62,505.10L240.55,505.60L240.49,506.10L240.43,506.60L240.37,507.10L240.31,507.60L240.26,508.10L240.21,508.60L240.17,509.10L240.12,509.60L240.08,510.10L240.04,510.60L240.00,511.10L239.97,511.60L239.93,512.10L239.90,512.60L239.87,513.10L239.83,513.60L239.81,514.10L239.78,514.60L239.76,515.10L239.74,515.60L239.72,516.10L239.70,516.60L239.30,516.60Z" fill="#616161" fill-opacity="0.5" stroke="#282828" stroke-width="1.1" stroke-linejoin="round"/>
<rect x="235.90" y="398.5" width="3.40" height="46.10" fill="#d6d6d6" stroke="#282828" stroke-width="1.1"/>
<line x1="235.90" x2="239.30" y1="425" y2="425" stroke="#282828" stroke-width="1.2"/>
<rect x="239.30" y="398.5" width="3.50" height="44.30" fill="#646464" stroke="#3a3a3a" stroke-width="1.1"/>
<line x1="239.30" x2="242.80" y1="423.9" y2="423.9" stroke="#2a2a2a" stroke-width="1.2"/>
<path d="M301.80,330.50L300.60,330.50L300.54,331.00L300.49,331.50L300.43,332.00L300.38,332.50L300.33,333.00L300.28,333.50L300.23,334.00L300.18,334.50L300.13,335.00L300.08,335.50L300.03,336.00L299.98,336.50L299.93,337.00L299.88,337.50L299.83,338.00L299.78,338.50L299.73,339.00L299.69,339.50L299.64,340.00L299.59,340.50L299.55,341.00L299.50,341.50L299.45,342.00L299.41,342.50L299.36,343.00L299.31,343.50L299.26,344.00L299.21,344.50L299.15,345.00L299.10,345.50L299.04,346.00L298.98,346.50L298.92,347.00L298.85,347.50L298.79,348.00L298.72,348.50L298.66,349.00L298.59,349.50L298.53,350.00L298.46,350.50L298.40,351.00L298.34,351.50L298.27,352.00L298.21,352.50L298.14,353.00L298.08,353.50L298.01,354.00L297.94,354.50L297.87,355.00L297.80,355.50L297.73,356.00L297.66,356.50L297.58,357.00L297.50,357.50L297.42,358.00L297.34,358.50L297.26,359.00L297.17,359.50L297.09,360.00L297.00,360.50L296.91,361.00L296.83,361.50L296.74,362.00L296.65,362.50L296.56,363.00L296.46,363.50L296.37,364.00L296.28,364.50L296.19,365.00L296.09,365.50L296.00,366.00L295.90,366.50L295.80,367.00L295.71,367.50L295.61,368.00L295.51,368.50L295.41,369.00L295.30,369.50L295.19,370.00L295.08,370.50L294.96,371.00L294.83,371.50L294.69,372.00L294.55,372.50L294.40,373.00L294.24,373.50L294.08,374.00L293.92,374.50L293.76,375.00L293.59,375.50L293.43,376.00L293.27,376.50L293.12,377.00L292.97,377.50L292.84,378.00L292.71,378.50L292.59,379.00L292.49,379.50L292.39,380.00L292.30,380.50L292.22,381.00L292.14,381.50L292.06,382.00L291.98,382.50L291.91,383.00L291.83,383.50L291.75,384.00L291.67,384.50L291.59,385.00L291.51,385.50L291.43,386.00L291.34,386.50L291.26,387.00L291.17,387.50L291.08,388.00L290.99,388.50L290.90,389.00L290.81,389.50L290.71,390.00L290.61,390.50L290.51,391.00L290.41,391.50L290.31,392.00L290.20,392.50L290.09,393.00L289.97,393.50L289.85,394.00L289.72,394.50L289.58,395.00L289.43,395.50L289.27,396.00L289.10,396.50L288.92,397.00L288.73,397.50L288.53,398.00L288.31,398.50L288.08,399.00L287.84,399.50L287.59,400.00L287.33,400.50L287.06,401.00L286.77,401.50L286.48,402.00L286.18,402.50L285.87,403.00L285.55,403.50L285.23,404.00L284.89,404.50L284.55,405.00L284.21,405.50L283.86,406.00L283.50,406.50L283.15,407.00L282.80,407.50L282.45,408.00L282.10,408.50L281.75,409.00L281.41,409.50L281.08,410.00L280.74,410.50L280.41,411.00L280.09,411.50L279.77,412.00L279.45,412.50L279.13,413.00L278.82,413.50L278.51,414.00L278.21,414.50L277.91,415.00L277.62,415.50L277.34,416.00L277.07,416.50L276.81,417.00L276.57,417.50L276.33,418.00L276.12,418.50L275.91,419.00L275.72,419.50L275.53,420.00L275.36,420.50L275.21,421.00L275.06,421.50L274.92,422.00L274.80,422.50L274.68,423.00L274.58,423.50L274.48,424.00L274.40,424.50L274.33,425.00L274.26,425.50L274.22,426.00L274.18,426.50L274.16,427.00L274.15,427.50L274.15,428.00L274.16,428.50L274.18,429.00L274.20,429.50L274.23,430.00L274.27,430.50L274.32,431.00L274.38,431.50L274.45,432.00L274.54,432.50L274.64,433.00L274.75,433.50L274.87,434.00L275.01,434.50L275.15,435.00L275.31,435.50L275.47,436.00L275.65,436.50L275.83,437.00L276.02,437.50L276.22,438.00L276.43,438.50L276.64,439.00L276.86,439.50L277.09,440.00L277.33,440.50L277.57,441.00L277.82,441.50L278.08,442.00L278.34,442.50L278.61,443.00L278.88,443.50L279.16,444.00L279.45,444.50L279.74,445.00L280.03,445.50L280.33,446.00L280.63,446.50L280.94,447.00L281.26,447.50L281.58,448.00L281.90,448.50L282.23,449.00L282.57,449.50L282.90,450.00L283.25,450.50L283.59,451.00L283.93,451.50L284.27,452.00L284.61,452.50L284.95,453.00L285.28,453.50L285.61,454.00L285.94,454.50L286.26,455.00L286.57,455.50L286.89,456.00L287.20,456.50L287.51,457.00L287.81,457.50L288.11,458.00L288.41,458.50L288.70,459.00L288.99,459.50L289.28,460.00L289.56,460.50L289.83,461.00L290.10,461.50L290.37,462.00L290.64,462.50L290.90,463.00L291.15,463.50L291.41,464.00L291.66,464.50L291.90,465.00L292.15,465.50L292.39,466.00L292.63,466.50L292.86,467.00L293.10,467.50L293.33,468.00L293.56,468.50L293.78,469.00L294.01,469.50L294.23,470.00L294.45,470.50L294.66,471.00L294.88,471.50L295.09,472.00L295.29,472.50L295.50,473.00L295.70,473.50L295.89,474.00L296.08,474.50L296.27,475.00L296.46,475.50L296.64,476.00L296.82,476.50L296.99,477.00L297.16,477.50L297.33,478.00L297.50,478.50L297.66,479.00L297.82,479.50L297.97,480.00L298.12,480.50L298.27,481.00L298.41,481.50L298.55,482.00L298.69,482.50L298.82,483.00L298.95,483.50L299.08,484.00L299.20,484.50L299.32,485.00L299.43,485.50L299.54,486.00L299.65,486.50L299.75,487.00L299.85,487.50L299.95,488.00L300.04,488.50L300.12,489.00L300.21,489.50L300.29,490.00L300.37,490.50L300.44,491.00L300.51,491.50L300.58,492.00L300.64,492.50L300.70,493.00L300.75,493.50L300.80,494.00L300.84,494.50L300.88,495.00L300.91,495.50L300.94,496.00L300.96,496.50L300.99,497.00L301.01,497.50L301.03,498.00L301.04,498.50L301.06,499.00L301.08,499.50L301.09,500.00L301.10,500.50L301.11,501.00L301.12,501.50L301.13,502.00L301.14,502.50L301.15,503.00L301.15,503.50L301.16,504.00L301.16,504.50L301.17,505.00L301.17,505.50L301.17,506.00L301.18,506.50L301.18,507.00L301.18,507.50L301.19,508.00L301.19,508.50L301.19,509.00L301.19,509.50L301.19,510.00L301.20,510.50L301.20,511.00L301.20,511.50L301.20,512.00L301.20,512.50L301.20,512.70L301.80,512.70Z" fill="#c4c4c4" fill-opacity="0.5" stroke="#282828" stroke-width="1.1" stroke-linejoin="round"/>
<path d="M301.80,318.50L302.40,318.50L302.40,319.00L302.40,319.50L302.41,320.00L302.41,320.50L302.42,321.00L302.43,321.50L302.44,322.00L302.45,322.50L302.46,323.00L302.47,323.50L302.48,324.00L302.50,324.50L302.51,325.00L302.52,325.50L302.54,326.00L302.56,326.50L302.57,327.00L302.59,327.50L302.61,328.00L302.63,328.50L302.65,329.00L302.67,329.50L302.69,330.00L302.71,330.50L302.73,331.00L302.76,331.50L302.79,332.00L302.82,332.50L302.85,333.00L302.88,333.50L302.92,334.00L302.96,334.50L303.00,335.00L303.04,335.50L303.09,336.00L303.13,336.50L303.18,337.00L303.23,337.50L303.28,338.00L303.33,338.50L303.38,339.00L303.43,339.50L303.49,340.00L303.55,340.50L303.61,341.00L303.67,341.50L303.74,342.00L303.80,342.50L303.87,343.00L303.94,343.50L304.00,344.00L304.07,344.50L304.14,345.00L304.21,345.50L304.28,346.00L304.34,346.50L304.41,347.00L304.48,347.50L304.55,348.00L304.62,348.50L304.68,349.00L304.75,349.50L304.82,350.00L304.89,350.50L304.96,351.00L305.03,351.50L305.10,352.00L305.16,352.50L305.23,353.00L305.30,353.50L305.37,354.00L305.45,354.50L305.52,355.00L305.59,355.50L305.67,356.00L305.75,356.50L305.83,357.00L305.91,357.50L305.99,358.00L306.07,358.50L306.15,359.00L306.23,359.50L306.32,360.00L306.40,360.50L306.48,361.00L306.57,361.50L306.65,362.00L306.73,362.50L306.82,363.00L306.90,363.50L306.98,364.00L307.07,364.50L307.15,365.00L307.23,365.50L307.31,366.00L307.39,366.50L307.47,367.00L307.55,367.50L307.63,368.00L307.71,368.50L307.79,369.00L307.88,369.50L307.97,370.00L308.07,370.50L308.18,371.00L308.29,371.50L308.42,372.00L308.55,372.50L308.70,373.00L308.85,373.50L309.00,374.00L309.15,374.50L309.30,375.00L309.46,375.50L309.61,376.00L309.76,376.50L309.90,377.00L310.05,377.50L310.19,378.00L310.32,378.50L310.45,379.00L310.58,379.50L310.70,380.00L310.82,380.50L310.93,381.00L311.05,381.50L311.16,382.00L311.27,382.50L311.39,383.00L311.50,383.50L311.62,384.00L311.74,384.50L311.86,385.00L311.98,385.50L312.11,386.00L312.23,386.50L312.36,387.00L312.50,387.50L312.63,388.00L312.76,388.50L312.90,389.00L313.04,389.50L313.18,390.00L313.32,390.50L313.47,391.00L313.62,391.50L313.77,392.00L313.92,392.50L314.08,393.00L314.24,393.50L314.40,394.00L314.57,394.50L314.75,395.00L314.93,395.50L315.11,396.00L315.31,396.50L315.51,397.00L315.72,397.50L315.94,398.00L316.16,398.50L316.40,399.00L316.64,399.50L316.88,400.00L317.13,400.50L317.39,401.00L317.66,401.50L317.93,402.00L318.21,402.50L318.49,403.00L318.78,403.50L319.07,404.00L319.37,404.50L319.67,405.00L319.98,405.50L320.28,406.00L320.59,406.50L320.90,407.00L321.20,407.50L321.51,408.00L321.80,408.50L322.09,409.00L322.38,409.50L322.66,410.00L322.93,410.50L323.21,411.00L323.48,411.50L323.76,412.00L324.04,412.50L324.33,413.00L324.62,413.50L324.92,414.00L325.22,414.50L325.52,415.00L325.81,415.50L326.10,416.00L326.39,416.50L326.66,417.00L326.92,417.50L327.16,418.00L327.39,418.50L327.61,419.00L327.81,419.50L328.00,420.00L328.19,420.50L328.36,421.00L328.53,421.50L328.69,422.00L328.84,422.50L328.98,423.00L329.12,423.50L329.25,424.00L329.37,424.50L329.47,425.00L329.56,425.50L329.63,426.00L329.67,426.50L329.71,427.00L329.72,427.50L329.72,428.00L329.71,428.50L329.68,429.00L329.64,429.50L329.60,430.00L329.54,430.50L329.47,431.00L329.38,431.50L329.27,432.00L329.15,432.50L329.00,433.00L328.84,433.50L328.66,434.00L328.47,434.50L328.27,435.00L328.06,435.50L327.84,436.00L327.62,436.50L327.40,437.00L327.17,437.50L326.93,438.00L326.69,438.50L326.45,439.00L326.19,439.50L325.93,440.00L325.67,440.50L325.39,441.00L325.11,441.50L324.83,442.00L324.54,442.50L324.24,443.00L323.94,443.50L323.64,444.00L323.33,444.50L323.02,445.00L322.71,445.50L322.41,446.00L322.10,446.50L321.79,447.00L321.48,447.50L321.18,448.00L320.87,448.50L320.57,449.00L320.27,449.50L319.96,450.00L319.66,450.50L319.36,451.00L319.06,451.50L318.76,452.00L318.46,452.50L318.16,453.00L317.86,453.50L317.56,454.00L317.27,454.50L316.97,455.00L316.68,455.50L316.39,456.00L316.09,456.50L315.80,457.00L315.51,457.50L315.23,458.00L314.94,458.50L314.66,459.00L314.38,459.50L314.10,460.00L313.83,460.50L313.56,461.00L313.29,461.50L313.03,462.00L312.76,462.50L312.50,463.00L312.25,463.50L311.99,464.00L311.74,464.50L311.49,465.00L311.25,465.50L311.01,466.00L310.77,466.50L310.54,467.00L310.31,467.50L310.09,468.00L309.87,468.50L309.66,469.00L309.45,469.50L309.24,470.00L309.04,470.50L308.84,471.00L308.64,471.50L308.44,472.00L308.25,472.50L308.06,473.00L307.88,473.50L307.69,474.00L307.51,474.50L307.33,475.00L307.15,475.50L306.97,476.00L306.79,476.50L306.62,477.00L306.44,477.50L306.27,478.00L306.11,478.50L305.95,479.00L305.79,479.50L305.63,480.00L305.48,480.50L305.33,481.00L305.19,481.50L305.05,482.00L304.91,482.50L304.78,483.00L304.65,483.50L304.52,484.00L304.39,484.50L304.27,485.00L304.16,485.50L304.05,486.00L303.94,486.50L303.84,487.00L303.75,487.50L303.66,488.00L303.57,488.50L303.49,489.00L303.42,489.50L303.34,490.00L303.27,490.50L303.21,491.00L303.15,491.50L303.09,492.00L303.03,492.50L302.98,493.00L302.93,493.50L302.89,494.00L302.85,494.50L302.82,495.00L302.78,495.50L302.75,496.00L302.73,496.50L302.70,497.00L302.68,497.50L302.66,498.00L302.63,498.50L302.62,499.00L302.60,499.50L302.58,500.00L302.56,500.50L302.55,501.00L302.54,501.50L302.53,502.00L302.51,502.50L302.50,503.00L302.49,503.50L302.49,504.00L302.48,504.50L302.47,505.00L302.46,505.50L302.46,506.00L302.45,506.50L302.44,507.00L302.44,507.50L302.43,508.00L302.43,508.50L302.42,509.00L302.42,509.50L302.41,510.00L302.41,510.50L302.41,511.00L302.40,511.50L302.40,512.00L302.40,512.50L302.40,512.70L301.80,512.70Z" fill="#616161" fill-opacity="0.5" stroke="#282828" stroke-width="1.1" stroke-linejoin="round"/>
<rect x="298.30" y="407.5" width="3.50" height="37.10" fill="#d6d6d6" stroke="#282828" stroke-width="1.1"/>
<line x1="298.30" x2="301.80" y1="427.3" y2="427.3" stroke="#282828" stroke-width="1.2"/>
<rect x="301.80" y="404.8" width="3.20" height="38.40" fill="#646464" stroke="#3a3a3a" stroke-width="1.1"/>
<line x1="301.80" x2="305.00" y1="425.3" y2="425.3" stroke="#2a2a2a" stroke-width="1.2"/>
<rect x="354.7" y="120.70" width="13.60" height="14.70" fill="#ebebeb" stroke="#3d3d3d" stroke-width="1.35"/>
<line x1="361.5" x2="361.5" y1="120.70" y2="135.40" stroke="#3d3d3d" stroke-width="1.1"/>
<rect x="355.9" y="124.30" width="11.40" height="7.40" fill="#d6d6d6" stroke="#3d3d3d" stroke-width="1.35"/>
<line x1="355.9" x2="367.3" y1="128.10" y2="128.10" stroke="#3d3d3d" stroke-width="1.35"/>
<text x="375.0" y="132.1" text-anchor="start" fill="#111111" stroke="#111111" stroke-width="0.3">pre<tspan dy="1.1">−</tspan><tspan dy="-1.1">SLE</tspan></text>
<rect x="354.7" y="135.40" width="13.60" height="14.70" fill="#c9c9c9" stroke="#3d3d3d" stroke-width="1.35"/>
<line x1="361.5" x2="361.5" y1="135.40" y2="150.10" stroke="#3d3d3d" stroke-width="1.1"/>
<rect x="355.9" y="139.40" width="11.40" height="7.30" fill="#6e6e6e" stroke="#3d3d3d" stroke-width="1.35"/>
<line x1="355.9" x2="367.3" y1="143.20" y2="143.20" stroke="#3d3d3d" stroke-width="1.35"/>
<text x="375.0" y="147.3" text-anchor="start" fill="#111111" stroke="#111111" stroke-width="0.3">post<tspan dy="1.1">−</tspan><tspan dy="-1.1">SLE</tspan></text>
<rect x="354.7" y="401.50" width="13.60" height="14.70" fill="#ebebeb" stroke="#3d3d3d" stroke-width="1.35"/>
<line x1="361.5" x2="361.5" y1="401.50" y2="416.20" stroke="#3d3d3d" stroke-width="1.1"/>
<rect x="355.9" y="405.10" width="11.40" height="7.40" fill="#d6d6d6" stroke="#3d3d3d" stroke-width="1.35"/>
<line x1="355.9" x2="367.3" y1="408.90" y2="408.90" stroke="#3d3d3d" stroke-width="1.35"/>
<text x="375.0" y="412.9" text-anchor="start" fill="#111111" stroke="#111111" stroke-width="0.3">pre<tspan dy="1.1">−</tspan><tspan dy="-1.1">SLE</tspan></text>
<rect x="354.7" y="416.20" width="13.60" height="14.70" fill="#c9c9c9" stroke="#3d3d3d" stroke-width="1.35"/>
<line x1="361.5" x2="361.5" y1="416.20" y2="430.90" stroke="#3d3d3d" stroke-width="1.1"/>
<rect x="355.9" y="420.20" width="11.40" height="7.30" fill="#6e6e6e" stroke="#3d3d3d" stroke-width="1.35"/>
<line x1="355.9" x2="367.3" y1="424.00" y2="424.00" stroke="#3d3d3d" stroke-width="1.35"/>
<text x="375.0" y="428.1" text-anchor="start" fill="#111111" stroke="#111111" stroke-width="0.3">post<tspan dy="1.1">−</tspan><tspan dy="-1.1">SLE</tspan></text>
</svg></body></html>
